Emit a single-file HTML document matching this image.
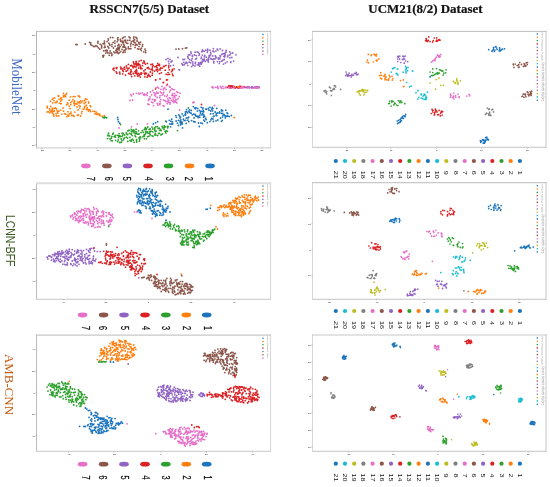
<!DOCTYPE html>
<html><head><meta charset="utf-8"><title>t-SNE</title>
<style>html,body{margin:0;padding:0;background:#fff}svg{display:block}</style>
</head><body>
<svg width="550" height="487" viewBox="0 0 550 487">
<rect width="550" height="487" fill="#fff"/>
<rect x="36.5" y="31.4" width="234.0" height="116.5" fill="#fff"/>
<path d="M36.5 30.95V148.40" stroke="#a4a4a4" stroke-width="0.8"/>
<path d="M270.5 30.95V148.40" stroke="#dadada" stroke-width="1.1"/>
<path d="M36.1 31.4H271.05" stroke="#b8b8b8" stroke-width="0.9"/>
<path d="M36.1 147.9H271.05" stroke="#c8c8c8" stroke-width="1.0"/>
<rect x="36.5" y="183.2" width="234.0" height="116.1" fill="#fff"/>
<path d="M36.5 182.15V299.95" stroke="#a8a8a8" stroke-width="0.8"/>
<path d="M270.5 182.15V299.95" stroke="#dadada" stroke-width="1.2"/>
<path d="M36.1 183.2H271.1" stroke="#dedede" stroke-width="2.1"/>
<path d="M36.1 299.3H271.1" stroke="#d2d2d2" stroke-width="1.3"/>
<rect x="36.5" y="335.2" width="234.0" height="116.2" fill="#fff"/>
<path d="M36.5 334.55V452.05" stroke="#a8a8a8" stroke-width="0.8"/>
<path d="M270.5 334.55V452.05" stroke="#dadada" stroke-width="1.2"/>
<path d="M36.1 335.2H271.1" stroke="#c8c8c8" stroke-width="1.3"/>
<path d="M36.1 451.4H271.1" stroke="#d2d2d2" stroke-width="1.3"/>
<rect x="312.5" y="31.4" width="233.5" height="116.0" fill="#fff"/>
<path d="M312.5 30.90V148.05" stroke="#d4d4d4" stroke-width="0.9"/>
<path d="M546.0 30.90V148.05" stroke="#d8d8d8" stroke-width="1.5"/>
<path d="M312.05 31.4H546.75" stroke="#bcbcbc" stroke-width="1.0"/>
<path d="M312.05 147.4H546.75" stroke="#d0d0d0" stroke-width="1.3"/>
<rect x="312.5" y="182.7" width="233.5" height="116.6" fill="#fff"/>
<path d="M312.5 182.10V299.95" stroke="#d4d4d4" stroke-width="0.9"/>
<path d="M546.0 182.10V299.95" stroke="#d8d8d8" stroke-width="1.5"/>
<path d="M312.05 182.7H546.75" stroke="#c8c8c8" stroke-width="1.2"/>
<path d="M312.05 299.3H546.75" stroke="#d0d0d0" stroke-width="1.3"/>
<rect x="312.5" y="335.0" width="233.5" height="116.3" fill="#fff"/>
<path d="M312.5 334.40V451.95" stroke="#d4d4d4" stroke-width="0.9"/>
<path d="M546.0 334.40V451.95" stroke="#d8d8d8" stroke-width="1.5"/>
<path d="M312.05 335.0H546.75" stroke="#c8c8c8" stroke-width="1.2"/>
<path d="M312.05 451.3H546.75" stroke="#d0d0d0" stroke-width="1.3"/>
<g fill="none" stroke-linecap="round">
<path stroke="#8c564b" stroke-width="1.8" d="M113.4 48.0h.01M116.8 49.0h.01M90.8 42.9h.01M129.0 36.9h.01M125.9 49.4h.01M118.0 37.6h.01M112.0 54.2h.01M115.9 50.4h.01M104.4 41.1h.01M133.1 44.5h.01M142.4 46.2h.01M134.0 42.0h.01M145.7 52.5h.01M134.7 39.8h.01M91.9 45.3h.01M103.8 55.4h.01M98.0 41.4h.01M99.7 49.2h.01M140.2 49.1h.01M122.4 42.8h.01M123.5 42.0h.01M112.8 37.6h.01M120.4 39.3h.01M128.3 48.7h.01M114.6 52.7h.01M107.2 50.5h.01M111.1 52.8h.01M123.8 44.2h.01M130.6 44.1h.01M114.9 40.8h.01M103.6 50.8h.01M141.3 50.5h.01M105.3 50.7h.01M140.0 44.3h.01M93.4 46.4h.01M113.1 42.3h.01M123.9 47.2h.01M129.2 48.8h.01M137.1 41.3h.01M124.1 45.4h.01M127.7 40.4h.01M129.7 40.2h.01M128.3 47.0h.01M109.5 53.1h.01M143.7 51.8h.01M108.7 48.0h.01M125.6 40.1h.01M125.2 52.1h.01M118.3 53.6h.01M138.9 43.7h.01M119.3 52.6h.01M135.8 37.3h.01M105.8 53.1h.01M117.4 51.3h.01M98.4 47.8h.01M125.1 47.1h.01M104.5 43.9h.01M120.5 40.4h.01M120.1 46.6h.01M119.1 44.8h.01M101.7 46.5h.01M114.8 43.2h.01M133.9 36.8h.01M127.8 43.3h.01M117.9 45.7h.01M118.1 39.9h.01M138.5 49.1h.01M137.2 45.0h.01M110.2 50.9h.01M116.1 52.4h.01M119.3 47.1h.01M104.9 46.1h.01M96.0 45.6h.01M122.9 46.9h.01M136.5 44.5h.01M130.1 37.9h.01M125.0 50.1h.01M126.5 43.1h.01M118.6 44.5h.01M123.4 52.2h.01M108.3 38.8h.01M122.9 52.6h.01M94.8 46.5h.01M123.4 37.3h.01M117.7 49.1h.01M125.9 48.5h.01M109.2 55.3h.01M111.9 46.3h.01M130.7 46.1h.01M122.5 38.4h.01M117.6 38.9h.01M121.4 44.8h.01M131.4 41.6h.01M107.1 41.6h.01M122.0 49.5h.01M101.6 45.2h.01M119.2 49.9h.01M97.8 43.0h.01M133.0 40.8h.01M105.1 47.3h.01M112.0 44.3h.01M133.7 38.1h.01M89.6 42.3h.01M107.1 51.8h.01M135.2 42.9h.01M100.1 44.1h.01M109.7 44.7h.01M135.1 47.4h.01M140.6 42.2h.01M119.3 48.2h.01M125.7 41.8h.01M117.3 52.7h.01M145.5 50.6h.01M142.6 44.6h.01M135.2 45.2h.01M108.3 40.0h.01M103.2 57.0h.01M133.9 40.1h.01M122.2 41.1h.01M104.3 47.6h.01M117.8 47.9h.01M107.9 52.9h.01M139.0 46.6h.01M101.6 47.9h.01M115.2 46.1h.01M138.8 42.4h.01M104.4 42.9h.01M113.8 51.8h.01M90.6 44.7h.01M85.2 44.0h.01M103.1 43.6h.01M131.1 43.1h.01M136.9 38.2h.01M137.6 48.9h.01M110.5 37.5h.01M116.9 49.6h.01M108.9 43.2h.01M106.4 50.2h.01M141.5 48.1h.01M124.4 40.4h.01M120.7 51.6h.01M107.8 46.5h.01M120.6 41.4h.01M102.8 55.7h.01M137.0 40.1h.01M97.3 46.4h.01M117.2 41.7h.01M125.1 36.8h.01M145.0 49.1h.01M124.0 50.5h.01M109.9 45.2h.01M111.8 55.6h.01M130.8 48.7h.01"/>
<path stroke="#8c564b" stroke-width="1.8" d="M76.0 44.5h.01M77.2 44.6h.01M176.0 49.1h.01M178.8 49.0h.01M182.5 48.7h.01M185.4 48.1h.01M186.8 47.8h.01"/>
<path stroke="#da2224" stroke-width="1.8" d="M120.6 67.1h.01M116.1 71.8h.01M132.4 66.3h.01M139.7 74.3h.01M149.2 76.0h.01M120.8 68.9h.01M128.4 64.4h.01M169.5 74.3h.01M133.1 67.8h.01M142.8 63.1h.01M165.9 65.4h.01M126.0 71.1h.01M159.4 64.3h.01M141.2 60.4h.01M136.8 71.0h.01M171.6 71.7h.01M140.8 68.7h.01M151.0 64.5h.01M130.9 69.6h.01M141.8 73.3h.01M144.3 62.0h.01M135.8 70.8h.01M144.9 74.4h.01M141.0 72.9h.01M128.0 68.3h.01M150.3 72.0h.01M113.9 68.2h.01M130.1 74.0h.01M149.1 68.8h.01M152.3 69.0h.01M123.3 71.4h.01M136.1 62.8h.01M144.1 73.1h.01M137.8 64.4h.01M161.3 72.8h.01M147.4 63.4h.01M136.4 65.0h.01M134.9 71.6h.01M168.7 67.7h.01M137.2 73.7h.01M124.7 69.2h.01M126.5 67.8h.01M156.8 65.6h.01M137.8 76.0h.01M136.1 61.5h.01M133.8 66.2h.01M133.5 73.3h.01M138.1 63.2h.01M157.7 63.3h.01M130.5 72.3h.01M131.5 65.3h.01M114.1 70.4h.01M126.4 71.2h.01M140.3 66.2h.01M138.7 68.0h.01M134.8 66.9h.01M157.4 69.1h.01M138.0 65.7h.01M116.2 67.9h.01M133.8 63.5h.01M169.4 69.8h.01M124.3 67.2h.01M136.4 69.4h.01M152.5 70.6h.01M168.7 65.9h.01M121.5 68.5h.01M112.9 69.1h.01M143.9 70.9h.01M148.7 74.4h.01M134.8 75.8h.01M157.5 71.6h.01M122.8 70.5h.01M136.4 63.8h.01M133.4 62.0h.01M119.7 72.2h.01M162.1 68.2h.01M129.1 68.1h.01M158.1 65.2h.01M166.1 74.3h.01M158.0 70.1h.01M150.2 76.5h.01M156.4 66.4h.01M147.2 68.0h.01M130.6 65.8h.01M143.9 61.0h.01M152.6 64.2h.01M125.5 75.1h.01M164.4 66.3h.01M154.5 71.1h.01M141.0 74.3h.01M135.6 73.2h.01M146.5 73.6h.01M138.5 73.5h.01M135.6 63.9h.01M160.0 68.9h.01M147.1 77.2h.01M140.3 77.1h.01M153.1 65.7h.01M152.2 75.2h.01M145.3 69.7h.01M155.0 66.7h.01M151.0 69.5h.01M152.4 67.0h.01M139.0 75.6h.01M144.3 62.8h.01M172.4 74.1h.01M168.1 72.6h.01M141.9 68.7h.01M131.0 71.0h.01M128.6 73.5h.01M147.8 75.7h.01M167.9 74.6h.01M137.2 74.4h.01M134.4 64.5h.01M157.0 67.6h.01M172.5 70.4h.01M159.5 65.7h.01M144.8 76.8h.01M127.8 70.1h.01M131.0 74.6h.01M160.0 70.1h.01M138.9 64.2h.01M131.5 71.7h.01M139.2 61.1h.01M139.8 64.7h.01M136.6 72.2h.01M142.5 65.6h.01M156.1 70.0h.01M165.2 70.2h.01M116.9 67.6h.01M126.4 65.9h.01M152.4 73.2h.01M159.5 73.6h.01M173.0 75.7h.01M119.9 73.9h.01M145.5 64.1h.01M148.4 67.3h.01M174.1 68.8h.01M122.7 73.8h.01M123.0 68.8h.01M131.7 76.6h.01M172.4 69.4h.01M136.1 66.8h.01M140.7 67.4h.01M116.7 68.6h.01M160.7 67.9h.01M145.8 73.0h.01M163.5 66.5h.01M133.2 73.8h.01M116.9 73.2h.01"/>
<path stroke="#da2224" stroke-width="1.8" d="M155.9 79.8h.01M163.2 82.7h.01M167.5 79.8h.01M155.6 80.0h.01M163.6 82.3h.01M166.5 80.0h.01M167.3 84.5h.01M155.6 88.8h.01M160.0 79.0h.01M193.5 102.3h.01M201.5 104.5h.01"/>
<path stroke="#9164c4" stroke-width="1.8" d="M217.1 49.1h.01M213.4 48.6h.01M224.8 56.9h.01M206.2 57.2h.01M222.5 50.5h.01M218.4 59.2h.01M192.4 56.5h.01M187.8 65.3h.01M204.9 55.4h.01M208.3 62.1h.01M187.1 63.1h.01M192.4 55.5h.01M213.9 58.8h.01M227.9 55.4h.01M235.9 54.8h.01M195.5 62.5h.01M184.3 64.7h.01M204.6 60.2h.01M231.8 57.4h.01M198.5 64.9h.01M212.7 59.3h.01M226.2 50.5h.01M192.1 58.8h.01M224.3 59.5h.01M220.0 55.6h.01M197.3 64.8h.01M211.0 53.8h.01M188.3 58.2h.01M196.6 58.3h.01M215.1 58.8h.01M225.0 53.9h.01M201.3 64.0h.01M202.0 62.5h.01M212.8 56.0h.01M217.9 50.1h.01M212.9 51.0h.01M183.0 59.5h.01M210.0 50.2h.01M210.3 55.5h.01M220.4 56.7h.01M208.6 59.3h.01M188.4 54.8h.01M213.8 61.5h.01M227.1 61.8h.01M223.5 64.1h.01M227.6 56.7h.01M181.8 63.7h.01M218.8 57.9h.01M190.8 51.9h.01M224.9 55.5h.01M195.6 59.2h.01M191.3 53.4h.01M221.8 61.2h.01M185.4 63.4h.01M202.4 55.1h.01M202.8 50.9h.01M199.8 63.9h.01M213.8 62.9h.01M202.4 50.0h.01M193.1 65.3h.01M189.1 62.2h.01M230.7 62.4h.01M201.8 51.7h.01M198.4 52.5h.01M211.3 59.2h.01M198.6 63.0h.01M189.8 55.0h.01M206.9 60.0h.01M191.7 66.6h.01M223.9 56.4h.01M190.7 62.8h.01M192.9 63.9h.01M207.3 52.3h.01M215.3 55.8h.01M199.0 55.3h.01M204.1 59.1h.01M232.6 53.0h.01M229.7 51.8h.01M197.1 51.9h.01M213.9 51.7h.01M186.2 62.1h.01M216.6 57.7h.01M208.2 60.9h.01M205.8 50.2h.01M195.0 65.9h.01M208.3 58.4h.01M209.2 55.4h.01M219.3 63.4h.01M226.0 51.9h.01M233.6 61.1h.01M229.9 55.0h.01M215.9 51.1h.01M225.3 52.8h.01M219.8 58.7h.01M191.3 60.5h.01M199.7 66.2h.01M199.4 54.0h.01M182.7 65.0h.01M222.8 53.8h.01M194.6 55.0h.01M201.2 58.6h.01M204.2 56.8h.01M205.3 61.4h.01M230.7 53.3h.01M210.6 52.3h.01M189.4 59.6h.01M221.7 54.5h.01M187.8 56.7h.01M203.4 60.8h.01M183.7 62.3h.01M207.7 49.2h.01M207.7 50.7h.01M209.1 56.9h.01M195.3 63.5h.01M201.3 57.1h.01M215.8 57.0h.01M229.9 57.8h.01M217.4 61.6h.01M200.4 62.3h.01M223.8 53.6h.01M184.6 59.4h.01M202.8 59.5h.01M222.8 60.1h.01M210.8 58.5h.01M230.9 61.8h.01M204.3 51.4h.01M200.9 63.2h.01M219.9 61.6h.01M196.3 55.6h.01M202.1 61.4h.01M195.1 52.2h.01M225.4 63.1h.01M220.1 48.9h.01M192.8 61.9h.01"/>
<path stroke="#9164c4" stroke-width="1.8" d="M178.0 57.5h.01M179.5 70.0h.01M168.0 58.5h.01M170.0 59.5h.01M172.0 61.0h.01M169.0 63.8h.01M171.0 62.0h.01M173.4 65.3h.01M170.5 66.0h.01M168.5 61.5h.01M179.0 69.6h.01M166.0 59.5h.01"/>
<path stroke="#e670c8" stroke-width="1.8" d="M174.4 89.8h.01M151.5 102.2h.01M146.1 94.7h.01M176.7 99.7h.01M166.0 89.4h.01M140.6 93.3h.01M157.2 97.5h.01M160.2 103.4h.01M163.5 100.1h.01M147.3 93.0h.01M172.7 95.1h.01M174.8 100.9h.01M164.7 95.9h.01M154.8 95.0h.01M170.0 104.1h.01M170.3 98.4h.01M174.0 102.5h.01M167.4 95.0h.01M176.8 102.9h.01M179.3 96.6h.01M173.9 96.1h.01M136.4 93.3h.01M157.7 105.2h.01M159.8 97.7h.01M175.8 99.7h.01M156.8 92.1h.01M163.4 89.9h.01M157.8 87.2h.01M171.3 100.4h.01M153.4 105.6h.01M171.8 88.8h.01M158.2 93.1h.01M173.2 99.9h.01M161.5 93.0h.01M131.5 95.8h.01M180.0 93.2h.01M159.8 104.8h.01M154.7 101.3h.01M152.9 102.7h.01M168.9 100.6h.01M174.6 93.3h.01M173.0 97.9h.01M156.9 93.4h.01M155.2 93.4h.01M160.9 89.3h.01M174.9 97.8h.01M148.5 100.4h.01M167.8 101.2h.01M138.7 93.2h.01M167.2 103.7h.01M159.4 104.0h.01M163.2 105.7h.01M169.4 86.4h.01M139.2 94.1h.01M142.4 92.8h.01M172.9 89.3h.01M162.0 86.4h.01M154.2 100.0h.01M150.5 92.0h.01M164.7 87.8h.01M166.6 96.7h.01M130.7 94.6h.01M157.3 103.4h.01M156.1 87.6h.01M174.5 96.6h.01M164.0 106.2h.01M162.1 95.1h.01M155.5 96.0h.01M160.9 99.6h.01M143.4 94.8h.01M149.1 104.6h.01M153.9 92.7h.01M160.0 101.4h.01M147.9 104.0h.01M175.1 95.5h.01M177.9 92.6h.01M175.8 102.0h.01M160.1 95.7h.01M178.1 98.6h.01M165.0 100.6h.01M171.8 95.5h.01M169.4 97.6h.01M149.8 99.1h.01M172.8 101.6h.01M148.9 99.0h.01M176.8 91.7h.01M147.2 95.4h.01M166.5 85.5h.01M160.3 92.0h.01M167.9 98.9h.01M163.5 88.5h.01M155.5 99.9h.01M170.1 102.7h.01M151.5 94.9h.01M169.7 91.8h.01M163.4 93.9h.01M152.8 90.5h.01M172.6 93.6h.01M168.4 102.4h.01M176.5 95.4h.01M166.1 101.7h.01M152.4 99.4h.01M158.6 88.3h.01M133.3 94.0h.01M170.1 87.2h.01M144.4 95.0h.01M170.4 90.2h.01M144.3 93.9h.01M150.0 96.9h.01M163.7 92.3h.01"/>
<path stroke="#e670c8" stroke-width="1.8" d="M130.0 100.5h.01M132.5 100.0h.01M179.6 110.0h.01M192.7 102.6h.01M194.0 102.3h.01M214.5 105.5h.01M137.3 123.9h.01M147.5 123.9h.01M131.5 126.8h.01M119.0 128.0h.01"/>
<path stroke="#ff7f0e" stroke-width="1.8" d="M61.3 97.6h.01M85.6 98.8h.01M81.7 102.3h.01M80.6 100.8h.01M86.4 105.2h.01M70.8 102.6h.01M80.1 103.1h.01M50.4 101.2h.01M55.9 102.7h.01M69.2 106.1h.01M79.8 108.1h.01M88.5 101.8h.01M63.4 93.5h.01M53.9 100.6h.01M53.1 98.3h.01M67.6 102.8h.01M87.1 107.5h.01M68.0 103.8h.01M58.8 96.0h.01M89.5 109.7h.01M80.1 106.2h.01M70.8 104.6h.01M58.2 96.0h.01M84.5 107.2h.01M77.2 104.1h.01M82.7 100.8h.01M77.5 102.2h.01M65.6 96.7h.01M66.6 104.7h.01M74.3 105.4h.01M83.2 109.1h.01M74.9 103.6h.01M84.2 103.5h.01M85.0 106.3h.01M86.9 99.4h.01M61.9 99.5h.01M57.0 101.9h.01M60.8 101.0h.01M63.7 96.9h.01M78.6 102.7h.01M90.7 106.6h.01M70.5 96.9h.01M61.3 103.6h.01M86.3 109.5h.01M52.6 102.8h.01M79.5 101.8h.01M79.0 105.4h.01M73.0 99.6h.01M64.9 95.5h.01M69.2 100.2h.01M78.2 95.9h.01M79.8 97.1h.01M87.4 109.1h.01M63.4 95.9h.01M59.0 99.3h.01M72.0 101.3h.01M57.1 101.2h.01M66.7 93.3h.01M84.1 108.8h.01M74.6 101.0h.01M74.0 103.5h.01M54.7 97.9h.01M77.0 107.0h.01M90.1 105.6h.01M60.5 103.6h.01M55.1 102.6h.01M52.3 99.3h.01M84.7 100.5h.01M65.9 94.7h.01M85.5 102.4h.01M76.2 103.8h.01M88.6 103.0h.01M59.5 103.2h.01M73.2 96.6h.01M74.9 96.7h.01M60.7 98.5h.01M79.4 96.2h.01M74.2 101.9h.01"/>
<path stroke="#ff7f0e" stroke-width="1.8" d="M51.7 110.2h.01M57.5 112.0h.01M53.5 114.4h.01M71.0 112.1h.01M64.5 113.6h.01M68.8 116.0h.01M60.8 110.1h.01M53.9 116.0h.01M47.1 111.9h.01M74.9 112.1h.01M49.9 112.8h.01M52.8 111.5h.01M66.8 116.7h.01M52.3 109.9h.01M50.6 111.7h.01M58.8 115.9h.01M67.9 115.2h.01M52.4 108.5h.01M77.2 115.1h.01M56.0 113.6h.01M56.3 115.5h.01M68.0 111.8h.01M47.2 106.4h.01M47.2 107.9h.01M59.0 111.1h.01M81.6 113.3h.01M54.3 111.0h.01M55.4 108.0h.01M69.3 113.9h.01M50.7 106.5h.01M54.1 108.5h.01M52.5 113.1h.01M63.5 111.2h.01M51.6 111.6h.01M57.0 116.1h.01M71.8 115.5h.01M61.9 114.1h.01M56.5 109.0h.01M65.8 114.2h.01M80.6 116.0h.01M73.2 115.5h.01M70.9 113.5h.01M74.2 116.3h.01M57.3 111.0h.01M49.5 109.0h.01M78.3 115.0h.01M49.7 110.0h.01M57.8 113.1h.01M48.4 111.9h.01"/>
<path stroke="#ff7f0e" stroke-width="1.8" d="M99.4 115.2h.01M96.2 112.2h.01M90.0 110.2h.01M97.1 114.6h.01M99.0 114.1h.01M94.6 111.4h.01M90.6 111.6h.01M104.1 115.7h.01M97.8 113.7h.01M88.0 109.7h.01M96.1 113.8h.01M92.9 111.3h.01M95.0 113.9h.01M102.2 116.4h.01M100.0 115.7h.01M99.9 114.3h.01M88.5 111.0h.01"/>
<path stroke="#ff7f0e" stroke-width="1.8" d="M70.0 108.5h.01M78.0 110.0h.01M82.0 111.5h.01M63.0 108.0h.01M234.2 117.5h.01"/>
<path stroke="#2ca02c" stroke-width="1.8" d="M150.2 129.0h.01M167.4 126.4h.01M154.7 130.3h.01M153.0 136.3h.01M134.1 132.8h.01M121.9 140.8h.01M140.8 137.8h.01M148.0 133.2h.01M127.6 138.1h.01M107.5 138.6h.01M155.8 126.8h.01M123.5 139.8h.01M144.1 135.0h.01M138.4 130.8h.01M135.5 131.6h.01M122.1 136.4h.01M117.3 135.3h.01M139.4 141.2h.01M145.3 127.7h.01M147.3 131.9h.01M111.1 140.6h.01M155.2 133.3h.01M135.7 136.7h.01M126.3 137.2h.01M110.0 138.9h.01M155.3 133.9h.01M132.5 130.4h.01M154.5 127.8h.01M118.1 135.6h.01M149.5 131.6h.01M108.5 133.2h.01M144.9 128.8h.01M112.8 134.2h.01M142.4 130.7h.01M159.6 133.4h.01M164.1 129.3h.01M134.1 142.3h.01M140.1 136.7h.01M144.2 129.6h.01M160.3 129.4h.01M144.4 136.2h.01M108.0 135.8h.01M167.6 127.9h.01M127.9 130.9h.01M136.1 129.2h.01M136.6 139.7h.01M155.3 131.3h.01M111.3 138.2h.01M157.7 135.6h.01M142.9 136.8h.01M166.2 130.9h.01M124.4 137.8h.01M129.9 137.3h.01M109.6 135.9h.01M137.8 134.2h.01M132.4 139.2h.01M119.1 133.6h.01M165.2 126.9h.01M144.4 138.7h.01M168.2 126.7h.01M139.7 139.6h.01M126.6 133.9h.01M156.0 135.1h.01M152.0 127.1h.01M131.3 131.3h.01M111.9 136.5h.01M144.0 135.8h.01M113.2 133.2h.01M118.6 137.6h.01M162.6 127.9h.01M122.1 133.1h.01M165.1 131.4h.01M152.7 131.9h.01M131.2 140.1h.01M135.0 135.8h.01M133.8 130.0h.01M126.3 132.9h.01M112.3 140.8h.01M115.6 140.3h.01M146.2 129.4h.01M136.5 140.4h.01M119.8 142.5h.01M117.7 141.7h.01M154.6 134.8h.01M130.0 140.4h.01M121.2 139.0h.01M132.2 135.6h.01M167.4 131.2h.01M141.1 132.6h.01M157.5 126.6h.01M123.2 133.3h.01M131.2 134.2h.01M108.9 135.3h.01M145.8 132.9h.01M149.1 136.1h.01M131.2 141.2h.01M156.2 131.1h.01M123.7 138.8h.01M151.1 131.1h.01M124.6 135.0h.01M161.2 130.5h.01M145.7 131.5h.01M118.9 136.1h.01M127.8 141.4h.01M152.1 135.8h.01M129.0 130.2h.01M149.7 133.6h.01M152.8 129.0h.01M114.2 136.6h.01M159.6 130.3h.01M149.8 132.5h.01M133.3 140.3h.01M165.9 132.9h.01M164.0 127.6h.01M139.0 138.0h.01M159.3 128.2h.01M158.1 128.4h.01M147.6 136.7h.01M118.2 139.9h.01M150.4 134.8h.01M131.2 129.3h.01M164.2 126.0h.01M131.5 133.3h.01M121.4 142.3h.01M136.7 142.0h.01M115.3 135.5h.01M154.9 129.1h.01M129.6 133.3h.01M115.4 137.2h.01M136.3 132.2h.01M119.9 135.6h.01M145.0 134.5h.01M161.0 134.9h.01M134.2 130.9h.01M133.0 131.5h.01M143.3 132.4h.01M162.4 134.0h.01M147.8 127.0h.01M146.6 128.5h.01M122.6 135.0h.01M146.4 138.8h.01M162.3 126.4h.01M139.0 134.0h.01M158.5 133.5h.01M149.1 129.4h.01M136.5 133.5h.01M120.3 136.6h.01M107.9 135.2h.01M127.7 134.7h.01M135.3 133.8h.01"/>
<path stroke="#2ca02c" stroke-width="1.8" d="M103.0 117.4h.01M104.2 117.9h.01M105.5 117.3h.01M106.7 117.8h.01M104.8 116.8h.01M120.5 124.6h.01M188.4 108.0h.01M165.8 121.2h.01M177.5 130.6h.01"/>
<path stroke="#1c74bc" stroke-width="1.8" d="M205.6 118.4h.01M182.5 127.9h.01M195.5 115.2h.01M188.0 117.9h.01M195.9 107.7h.01M175.8 115.6h.01M229.2 116.6h.01M193.7 121.5h.01M195.0 122.0h.01M225.8 110.2h.01M200.4 112.0h.01M203.9 114.8h.01M186.5 109.6h.01M196.0 116.2h.01M185.4 111.8h.01M206.1 119.5h.01M219.6 111.9h.01M212.9 119.0h.01M189.8 112.5h.01M210.0 107.3h.01M203.6 117.2h.01M216.8 115.7h.01M201.9 114.9h.01M226.7 116.3h.01M225.3 117.9h.01M202.7 113.5h.01M197.4 111.1h.01M170.9 121.2h.01M188.8 111.1h.01M215.1 112.0h.01M212.6 110.8h.01M200.9 111.2h.01M222.6 110.7h.01M225.0 115.9h.01M195.2 114.5h.01M202.4 123.5h.01M210.8 111.0h.01M182.1 122.5h.01M202.8 108.9h.01M185.6 120.3h.01M194.7 108.1h.01M219.5 113.1h.01M180.0 118.0h.01M227.0 112.9h.01M212.3 107.5h.01M199.3 110.3h.01M207.3 122.7h.01M203.7 111.8h.01M193.3 106.6h.01M191.4 110.4h.01M217.7 112.9h.01M185.0 114.8h.01M220.5 118.0h.01M210.6 113.9h.01M214.1 116.1h.01M213.3 116.6h.01M176.4 117.3h.01M191.1 113.2h.01M213.4 121.4h.01M178.3 125.4h.01M209.0 110.2h.01M203.9 116.0h.01M224.2 114.7h.01M216.4 113.4h.01M180.2 121.0h.01M186.8 111.7h.01M182.1 113.9h.01M203.0 108.0h.01M216.0 115.1h.01M180.8 119.8h.01M200.9 122.9h.01M188.7 117.1h.01M180.1 121.9h.01M192.3 114.8h.01M183.4 115.8h.01M180.4 122.7h.01M213.2 113.7h.01M221.4 121.3h.01M183.4 119.2h.01M222.7 113.4h.01M180.5 117.0h.01M187.8 120.1h.01M210.0 121.6h.01M223.0 115.3h.01M221.7 110.9h.01M204.6 121.2h.01M211.7 109.0h.01M178.7 114.9h.01M231.3 115.5h.01M208.4 108.4h.01M216.0 120.8h.01M186.3 118.0h.01M178.4 120.3h.01M191.6 120.6h.01M205.8 109.1h.01M177.4 123.2h.01M222.2 120.3h.01M189.5 109.9h.01M181.8 121.8h.01M204.6 116.4h.01M197.7 108.4h.01M198.5 123.0h.01M186.2 123.4h.01M195.5 108.8h.01M179.7 116.1h.01M211.6 118.3h.01M202.1 111.3h.01M201.2 107.3h.01M182.3 123.9h.01M187.8 112.8h.01M188.8 121.7h.01M171.1 124.1h.01M222.5 116.9h.01M176.1 121.0h.01M203.8 120.1h.01M217.8 120.0h.01M171.7 119.2h.01M213.0 108.6h.01M184.1 120.5h.01M172.5 121.9h.01M185.6 115.0h.01M181.1 123.9h.01M200.5 113.5h.01M216.7 108.4h.01M194.1 117.9h.01M193.8 114.2h.01M171.8 123.7h.01M221.5 113.4h.01M198.1 117.7h.01M198.2 116.3h.01M203.5 111.0h.01M197.3 116.2h.01M169.7 123.9h.01M199.7 115.4h.01M206.5 109.2h.01M227.7 116.0h.01M185.5 113.2h.01M199.8 117.3h.01M225.7 116.0h.01M172.6 124.0h.01M180.5 124.9h.01M227.7 113.5h.01M210.9 119.8h.01M221.4 109.8h.01"/>
<path stroke="#1c74bc" stroke-width="1.8" d="M117.6 117.4h.01M117.9 119.5h.01M118.4 121.7h.01M119.8 123.2h.01M153.3 123.9h.01M157.6 121.7h.01M155.5 122.8h.01M166.4 121.7h.01M169.3 120.3h.01M170.7 126.8h.01M168.0 109.2h.01M199.3 126.5h.01"/>
<path stroke="#e670c8" stroke-width="1.8" d="M223.7 88.3h.01M217.0 87.3h.01M229.4 87.0h.01M229.3 87.6h.01M222.8 86.3h.01M229.9 87.5h.01M213.0 88.0h.01M228.0 87.1h.01M217.8 86.5h.01M215.3 87.3h.01M211.9 87.1h.01M221.3 87.9h.01M226.1 87.2h.01M220.7 86.9h.01M218.2 88.4h.01M226.0 87.8h.01M221.7 88.2h.01M212.8 87.0h.01M228.4 87.0h.01M220.4 86.4h.01"/>
<path stroke="#da2224" stroke-width="1.8" d="M236.9 87.4h.01M237.4 87.6h.01M227.6 87.3h.01M230.5 86.9h.01M237.8 87.6h.01M239.4 88.0h.01M233.9 86.8h.01M231.6 87.3h.01M243.9 86.7h.01M230.9 87.8h.01M238.3 88.0h.01M229.2 87.2h.01M232.1 86.4h.01M244.2 87.2h.01M231.9 87.6h.01M231.5 87.6h.01M234.1 87.3h.01M232.5 87.0h.01M230.7 87.5h.01M233.5 86.4h.01M241.1 87.2h.01M235.2 88.1h.01M237.3 87.3h.01M228.8 87.1h.01M239.6 86.5h.01M234.3 87.0h.01M239.3 87.2h.01M236.4 87.0h.01M230.4 86.5h.01M229.8 87.6h.01M239.3 86.6h.01M229.7 87.2h.01M240.5 86.5h.01M245.1 87.3h.01M233.8 87.3h.01M237.1 87.0h.01"/>
<path stroke="#e670c8" stroke-width="1.8" d="M229.7 87.8h.01M242.4 87.8h.01M242.0 87.9h.01M243.7 87.2h.01M242.1 87.2h.01M247.2 87.3h.01M246.8 87.2h.01M247.9 87.1h.01M225.4 87.4h.01M229.5 87.6h.01M233.9 87.6h.01M240.1 87.6h.01M243.8 87.8h.01M249.2 87.6h.01M242.0 86.4h.01M231.4 88.1h.01M241.8 87.2h.01M246.8 87.2h.01M234.1 88.0h.01M240.8 88.2h.01M239.8 88.1h.01M228.7 87.8h.01M238.0 87.4h.01M233.6 86.8h.01"/>
<path stroke="#9164c4" stroke-width="1.8" d="M256.2 87.4h.01M257.3 86.9h.01M255.0 87.0h.01M251.3 87.3h.01M249.4 87.3h.01M252.8 87.5h.01M252.0 86.7h.01M249.1 86.9h.01M247.2 87.0h.01M258.2 87.7h.01M259.2 87.5h.01M258.7 87.0h.01M256.6 86.9h.01M246.4 87.6h.01M256.8 86.9h.01M248.5 87.0h.01M252.0 88.0h.01M256.8 87.4h.01"/>
<path stroke="#e670c8" stroke-width="1.8" d="M254.3 86.9h.01M257.4 87.8h.01M249.2 86.6h.01M258.9 87.5h.01M256.3 88.1h.01M257.6 87.2h.01M256.7 88.1h.01M255.1 88.2h.01M259.1 86.8h.01M256.0 88.1h.01M249.6 88.0h.01M247.7 87.9h.01M257.6 87.3h.01M253.3 88.1h.01"/>
<path stroke="#da2224" stroke-width="1.8" d="M229.0 85.6h.01M230.5 85.9h.01M232.0 86.0h.01M238.0 87.0h.01M239.5 86.6h.01"/>
<path stroke="#ff7f0e" stroke-width="1.8" d="M238.0 86.6h.01M239.0 87.0h.01"/>
<path stroke="#e670c8" stroke-width="1.8" d="M77.0 219.9h.01M101.6 219.8h.01M93.2 220.7h.01M97.8 210.5h.01M90.5 220.6h.01M101.7 212.3h.01M108.2 222.2h.01M94.7 218.4h.01M96.6 208.7h.01M90.9 223.4h.01M103.4 213.3h.01M90.5 219.8h.01M103.3 220.7h.01M91.3 217.2h.01M83.6 220.0h.01M97.3 221.6h.01M113.2 217.8h.01M73.6 217.6h.01M94.3 222.0h.01M86.4 211.1h.01M97.3 218.2h.01M102.2 215.6h.01M72.4 214.9h.01M75.1 216.3h.01M109.0 225.1h.01M70.7 217.1h.01M112.4 214.5h.01M77.8 212.9h.01M83.1 213.7h.01M87.0 208.9h.01M85.1 208.5h.01M90.0 219.7h.01M90.1 213.2h.01M93.1 212.7h.01M103.5 216.6h.01M79.7 211.5h.01M101.2 216.8h.01M111.1 220.4h.01M92.4 223.6h.01M83.0 218.3h.01M76.9 218.3h.01M99.2 222.3h.01M112.2 216.7h.01M98.7 226.5h.01M89.4 218.8h.01M83.7 216.4h.01M103.9 223.3h.01M103.7 211.7h.01M109.3 213.0h.01M102.6 211.1h.01M83.5 210.1h.01M89.2 217.6h.01M87.9 222.2h.01M78.8 218.0h.01M79.0 220.8h.01M86.2 217.2h.01M111.1 215.2h.01M94.4 209.2h.01M76.5 214.8h.01M80.1 216.1h.01M110.6 214.8h.01M91.7 226.5h.01M95.0 227.5h.01M93.4 219.4h.01M91.5 218.9h.01M111.8 220.8h.01M89.6 211.8h.01M78.9 216.6h.01M106.5 216.3h.01M85.6 215.0h.01M110.2 217.8h.01M106.9 220.9h.01M81.8 216.2h.01M92.8 216.9h.01M108.3 212.8h.01M80.8 217.9h.01M90.7 214.9h.01M106.4 215.7h.01M75.8 218.8h.01M81.6 220.1h.01M80.4 220.9h.01M88.4 208.6h.01M93.2 214.2h.01M88.3 224.7h.01M111.8 220.0h.01M93.0 211.3h.01M76.7 211.3h.01M109.2 213.9h.01M77.1 215.1h.01M75.5 220.6h.01M80.6 212.5h.01M106.1 212.6h.01M85.8 221.6h.01M74.4 212.8h.01M98.3 218.0h.01M74.4 214.1h.01M89.3 216.2h.01M98.2 211.5h.01M93.8 223.9h.01M101.3 223.7h.01M94.4 216.7h.01M92.0 211.5h.01M88.6 223.4h.01M78.7 222.5h.01M75.4 213.6h.01M81.5 209.4h.01M96.3 215.0h.01M109.1 214.3h.01M81.2 210.8h.01M78.5 211.1h.01M83.4 214.9h.01M83.4 222.4h.01M100.3 227.1h.01M103.5 214.5h.01M91.8 225.8h.01M90.3 221.7h.01M97.8 223.7h.01M93.6 207.5h.01M79.5 220.2h.01M104.1 225.2h.01M92.7 218.1h.01M96.4 211.8h.01M103.4 222.0h.01M84.4 223.0h.01M90.0 211.0h.01M87.2 214.5h.01M89.3 209.5h.01M102.9 223.2h.01M100.4 216.2h.01M70.5 215.8h.01M109.3 221.5h.01M109.3 220.2h.01M98.9 216.4h.01M109.8 219.8h.01M101.3 221.6h.01M96.3 220.1h.01M82.9 209.6h.01M75.4 216.8h.01M90.3 218.7h.01M110.3 224.2h.01M77.7 220.7h.01M84.7 210.8h.01M93.6 224.5h.01M93.9 218.3h.01M84.9 213.0h.01M72.9 219.1h.01M82.9 219.4h.01M97.3 227.1h.01M96.8 213.2h.01M93.4 225.8h.01M86.1 222.9h.01M72.3 215.9h.01M99.3 220.2h.01M110.5 221.7h.01M79.8 221.1h.01M99.7 218.9h.01"/>
<path stroke="#e670c8" stroke-width="1.8" d="M134.5 211.8h.01M137.0 212.0h.01M152.0 218.4h.01"/>
<path stroke="#1c74bc" stroke-width="1.8" d="M151.2 193.0h.01M152.2 204.7h.01M142.3 201.1h.01M143.6 195.8h.01M140.4 189.0h.01M141.5 196.2h.01M159.7 212.3h.01M159.8 215.2h.01M156.0 215.4h.01M151.6 191.5h.01M158.2 202.4h.01M160.4 204.7h.01M150.6 191.5h.01M139.9 203.4h.01M146.6 198.7h.01M153.1 195.7h.01M164.7 211.5h.01M140.5 200.5h.01M156.8 214.0h.01M154.7 211.1h.01M142.0 205.5h.01M143.0 198.9h.01M141.3 203.7h.01M165.5 209.9h.01M141.9 192.4h.01M151.6 203.0h.01M144.0 198.8h.01M148.1 201.0h.01M139.9 194.3h.01M163.1 212.7h.01M150.1 198.3h.01M155.3 193.9h.01M165.9 211.9h.01M157.2 211.0h.01M139.4 200.7h.01M149.5 203.3h.01M137.6 202.2h.01M166.5 210.1h.01M147.7 202.4h.01M147.2 191.8h.01M143.2 205.1h.01M160.4 200.5h.01M145.7 195.2h.01M150.0 206.9h.01M152.5 214.0h.01M148.7 195.6h.01M145.9 191.7h.01M143.5 202.9h.01M145.2 206.1h.01M154.8 213.8h.01M152.0 211.2h.01M148.2 190.9h.01M158.4 210.6h.01M137.8 192.0h.01M157.2 215.4h.01M150.2 200.1h.01M152.8 210.6h.01M144.4 191.0h.01M147.9 198.6h.01M149.8 201.6h.01M156.1 202.9h.01M142.4 193.9h.01M149.3 194.3h.01M142.8 191.7h.01M146.0 189.5h.01M153.2 212.0h.01M156.6 200.0h.01M140.5 190.5h.01M143.0 190.6h.01M152.6 194.7h.01M153.5 213.4h.01M139.9 197.0h.01M149.1 197.0h.01M154.7 196.5h.01M160.2 204.2h.01M154.2 209.1h.01M139.9 202.5h.01M138.7 196.1h.01M152.9 207.2h.01M138.0 189.9h.01M155.7 205.0h.01M150.7 201.5h.01M144.5 202.7h.01M161.6 201.4h.01M146.6 203.5h.01M163.3 210.8h.01M141.1 194.9h.01M146.1 208.4h.01M154.9 206.0h.01M166.3 208.1h.01M138.8 188.3h.01M157.8 205.3h.01M157.6 195.5h.01M158.0 201.1h.01M162.2 205.8h.01M149.6 188.8h.01M159.2 205.4h.01M142.3 202.4h.01M150.5 208.3h.01M148.4 204.7h.01M136.7 195.5h.01M155.9 195.8h.01M167.7 208.3h.01M160.7 213.4h.01M152.3 192.9h.01M168.0 206.5h.01M138.4 199.3h.01M146.4 188.3h.01M137.3 203.7h.01M145.6 193.8h.01M151.1 210.4h.01M143.6 189.3h.01M155.1 203.3h.01M153.7 205.9h.01M137.1 197.1h.01M155.3 216.5h.01M162.8 207.0h.01M163.4 214.5h.01M138.9 193.6h.01M149.3 208.6h.01M155.5 212.2h.01M142.0 197.9h.01M152.3 191.0h.01M146.2 207.1h.01M163.6 209.0h.01M156.4 192.1h.01M147.1 194.2h.01M149.9 195.6h.01M145.6 203.2h.01M147.3 201.3h.01M144.1 202.0h.01M161.9 215.3h.01M160.2 206.3h.01M138.1 201.5h.01M164.3 209.9h.01M151.7 199.7h.01M159.8 201.5h.01M155.2 192.7h.01M138.5 192.7h.01M155.3 199.1h.01M165.6 204.3h.01M155.9 214.6h.01M144.1 194.5h.01M148.0 204.1h.01M138.6 198.4h.01M152.1 189.6h.01M156.4 197.2h.01M152.7 205.8h.01M162.3 209.2h.01M153.2 202.5h.01"/>
<path stroke="#1c74bc" stroke-width="1.8" d="M138.0 211.0h.01M139.5 212.5h.01M140.5 211.0h.01M139.0 210.0h.01M141.0 213.0h.01M170.0 212.0h.01M206.0 209.3h.01M207.3 209.2h.01M210.3 208.2h.01M166.0 220.2h.01"/>
<path stroke="#ff7f0e" stroke-width="1.8" d="M245.8 205.8h.01M220.3 205.9h.01M242.3 200.3h.01M230.7 203.8h.01M238.9 196.6h.01M223.1 206.4h.01M236.7 199.2h.01M248.6 200.2h.01M230.1 209.0h.01M228.1 207.0h.01M235.5 215.6h.01M248.8 195.1h.01M242.4 211.9h.01M242.0 195.9h.01M243.4 215.2h.01M234.0 214.4h.01M249.6 202.8h.01M235.7 198.2h.01M235.7 211.1h.01M236.3 201.7h.01M244.4 194.8h.01M231.5 207.9h.01M221.3 206.7h.01M229.3 203.0h.01M236.9 208.0h.01M234.4 206.1h.01M255.1 198.9h.01M238.3 215.4h.01M232.5 210.4h.01M258.2 197.1h.01M250.5 207.1h.01M243.6 213.0h.01M237.6 198.2h.01M231.6 209.6h.01M232.7 206.5h.01M237.3 203.4h.01M241.9 205.7h.01M243.1 197.2h.01M247.1 200.4h.01M247.4 206.5h.01M239.6 203.2h.01M241.9 208.8h.01M234.5 214.0h.01M217.8 210.5h.01M229.0 205.3h.01M252.3 204.2h.01M234.4 207.4h.01M238.7 210.6h.01M240.4 202.8h.01M246.5 208.8h.01M255.8 197.7h.01M236.6 206.3h.01M238.6 213.8h.01M250.2 204.9h.01M242.2 212.8h.01M244.3 211.2h.01M243.2 209.9h.01M238.3 207.7h.01M237.1 212.1h.01M255.2 196.2h.01M241.6 214.1h.01M231.9 212.0h.01M245.2 201.7h.01M250.3 201.6h.01M239.5 209.5h.01M245.1 199.4h.01M234.8 200.6h.01M230.2 207.5h.01M245.0 212.9h.01M240.4 208.9h.01M249.3 208.0h.01M239.7 212.5h.01M236.3 207.6h.01M239.2 199.8h.01M221.0 205.7h.01M233.7 210.6h.01M226.1 205.5h.01M255.0 197.4h.01M241.9 207.1h.01M235.1 201.9h.01M248.1 202.7h.01M245.1 208.0h.01M244.1 213.6h.01M254.5 200.4h.01M243.6 206.1h.01M258.6 200.0h.01M246.6 198.4h.01M253.4 200.8h.01M231.8 205.4h.01M251.3 204.5h.01M240.1 215.4h.01M233.3 201.9h.01M240.3 210.5h.01M243.1 201.6h.01M253.4 201.8h.01M245.4 214.1h.01M244.2 207.9h.01M249.0 213.5h.01M250.4 210.6h.01M244.6 197.4h.01M226.6 206.9h.01M247.7 196.5h.01M241.5 216.5h.01M231.4 206.8h.01M238.6 212.7h.01M250.7 197.4h.01M247.9 199.4h.01M245.4 203.9h.01M252.4 198.6h.01M230.9 202.4h.01M235.6 213.4h.01M232.3 208.2h.01M219.4 207.3h.01M257.0 198.5h.01M219.6 209.6h.01M235.3 211.6h.01M245.5 202.7h.01M225.7 206.7h.01M221.6 207.4h.01M240.2 197.6h.01M251.0 199.8h.01M233.3 212.6h.01M229.0 206.4h.01M224.1 204.9h.01M224.7 207.6h.01M252.9 199.4h.01M234.4 203.2h.01M251.9 199.9h.01M233.0 200.4h.01M235.6 200.4h.01M241.4 211.6h.01M246.3 194.8h.01M237.4 208.7h.01M228.9 203.7h.01M250.0 200.7h.01M256.8 200.7h.01M241.4 216.1h.01M236.7 203.8h.01M235.9 215.1h.01M244.0 202.6h.01M233.3 207.9h.01M239.3 201.8h.01M231.7 211.1h.01M218.0 207.7h.01M249.7 211.9h.01M253.0 201.7h.01M250.1 195.2h.01M236.8 204.7h.01"/>
<path stroke="#ff7f0e" stroke-width="1.8" d="M223.4 213.0h.01M225.0 214.5h.01M226.5 216.0h.01M224.0 216.5h.01M227.5 213.5h.01M228.0 215.8h.01M223.0 215.0h.01M210.7 205.3h.01M216.0 226.7h.01M217.5 229.0h.01M181.3 274.1h.01"/>
<path stroke="#2ca02c" stroke-width="1.8" d="M184.1 241.1h.01M206.4 232.1h.01M173.5 226.0h.01M199.7 238.3h.01M192.8 247.3h.01M209.5 234.2h.01M188.1 238.3h.01M193.9 243.6h.01M191.4 233.8h.01M210.6 232.5h.01M198.4 235.7h.01M199.7 243.7h.01M182.3 240.2h.01M193.7 232.0h.01M176.7 226.4h.01M165.5 222.5h.01M180.4 236.5h.01M170.2 225.6h.01M174.5 224.5h.01M194.6 234.3h.01M192.2 239.1h.01M200.2 239.1h.01M194.2 246.0h.01M178.3 231.0h.01M186.3 240.1h.01M182.5 243.4h.01M184.3 229.9h.01M185.9 240.9h.01M181.2 230.9h.01M211.6 233.1h.01M170.6 226.6h.01M181.9 230.2h.01M189.6 233.5h.01M213.1 232.4h.01M183.9 245.0h.01M190.5 231.8h.01M178.7 228.9h.01M198.8 236.7h.01M181.7 242.0h.01M167.0 225.2h.01M170.3 228.8h.01M183.5 234.9h.01M163.1 225.0h.01M164.5 225.1h.01M175.8 230.8h.01M187.9 237.2h.01M170.0 223.7h.01M212.5 231.7h.01M193.5 230.9h.01M175.5 229.4h.01M195.2 235.2h.01M168.4 226.8h.01M207.9 232.2h.01M174.1 227.6h.01M188.4 234.2h.01M184.8 231.8h.01M176.2 230.3h.01M191.7 237.9h.01M214.8 229.1h.01M183.0 238.4h.01M182.4 237.6h.01M206.8 238.7h.01M190.2 237.7h.01M192.2 235.3h.01M186.2 234.0h.01M193.9 235.1h.01M197.4 231.7h.01M166.8 222.3h.01M188.1 242.0h.01M179.3 231.6h.01M195.9 241.4h.01M181.3 244.5h.01M197.2 241.2h.01M197.8 234.5h.01M205.6 235.3h.01M198.2 241.2h.01M197.4 242.9h.01M186.5 244.5h.01M208.1 235.8h.01M188.1 245.0h.01M197.8 244.1h.01M205.7 237.2h.01M189.3 234.0h.01M192.8 230.1h.01M187.7 239.4h.01M194.4 238.2h.01M213.6 230.2h.01M186.9 242.5h.01M209.5 232.3h.01M208.0 234.3h.01M203.6 236.8h.01M187.4 231.7h.01M187.1 236.8h.01M180.3 233.1h.01M198.5 243.4h.01M191.8 231.8h.01M179.1 227.1h.01M199.7 237.0h.01M170.7 224.4h.01M184.6 237.3h.01M195.0 243.7h.01M168.2 224.6h.01M198.9 234.7h.01M182.2 231.1h.01M182.2 244.9h.01M172.5 229.0h.01M206.8 234.4h.01M168.9 225.5h.01M190.5 236.1h.01M204.1 240.2h.01M194.0 239.1h.01M205.1 236.2h.01M200.1 233.0h.01M201.7 238.8h.01M167.6 223.6h.01M188.4 238.5h.01M191.7 232.8h.01M188.5 244.1h.01M212.5 229.9h.01M203.1 234.1h.01M186.4 239.1h.01M196.3 235.6h.01M212.2 231.0h.01M198.8 242.4h.01M197.7 240.1h.01M182.9 241.3h.01M199.6 232.2h.01M180.6 243.2h.01M193.0 238.6h.01M210.8 233.7h.01M195.6 242.7h.01M202.3 236.4h.01M181.9 234.5h.01M191.1 240.7h.01M193.5 242.0h.01M208.9 231.2h.01M196.7 244.7h.01M194.7 230.2h.01M194.6 236.9h.01M186.4 235.5h.01M187.6 229.9h.01M210.2 235.1h.01M192.5 240.7h.01M183.9 242.3h.01M195.9 236.8h.01M207.6 230.8h.01M165.0 223.5h.01M169.7 221.9h.01M178.4 225.9h.01M203.5 241.1h.01M204.5 233.5h.01M179.8 230.9h.01M165.6 226.5h.01M200.1 234.0h.01M209.0 236.5h.01M194.2 247.7h.01"/>
<path stroke="#2ca02c" stroke-width="1.8" d="M108.7 226.4h.01"/>
<path stroke="#9164c4" stroke-width="1.8" d="M60.6 262.0h.01M81.5 257.0h.01M54.4 254.6h.01M69.3 251.2h.01M50.0 256.0h.01M61.8 260.7h.01M51.8 256.8h.01M53.7 261.4h.01M91.1 261.6h.01M94.2 260.7h.01M80.1 260.2h.01M94.5 251.0h.01M69.3 249.2h.01M52.6 254.7h.01M67.3 264.9h.01M72.2 261.0h.01M93.3 248.5h.01M88.2 255.9h.01M71.3 255.4h.01M55.0 253.2h.01M67.2 259.4h.01M76.6 252.3h.01M90.1 252.6h.01M76.7 253.2h.01M92.3 262.7h.01M78.4 252.3h.01M67.0 258.4h.01M90.3 249.9h.01M65.1 254.7h.01M58.8 255.3h.01M62.8 256.8h.01M74.7 251.1h.01M77.9 256.4h.01M80.6 258.6h.01M80.1 256.8h.01M74.7 258.1h.01M57.8 258.6h.01M70.8 263.7h.01M64.9 260.6h.01M80.9 250.4h.01M83.5 263.0h.01M74.2 259.9h.01M62.8 253.4h.01M76.1 259.7h.01M89.8 258.6h.01M54.4 255.8h.01M77.5 249.8h.01M66.5 253.1h.01M57.6 254.4h.01M74.5 254.1h.01M85.2 260.2h.01M60.7 256.3h.01M68.6 257.3h.01M68.1 254.2h.01M53.5 259.2h.01M92.4 263.8h.01M59.0 253.9h.01M81.9 252.0h.01M86.5 249.3h.01M82.1 253.9h.01M82.3 259.4h.01M75.1 260.6h.01M91.1 248.3h.01M70.9 257.3h.01M65.1 258.5h.01M89.7 249.0h.01M72.2 249.6h.01M55.7 258.7h.01M64.2 257.0h.01M77.0 265.9h.01M93.5 260.1h.01M54.3 260.4h.01M65.5 251.7h.01M92.5 260.2h.01M67.5 252.9h.01M89.1 261.5h.01M89.2 263.7h.01M78.8 250.6h.01M75.3 264.8h.01M87.3 257.6h.01M64.4 261.6h.01M60.4 253.4h.01M90.6 263.2h.01M93.2 258.2h.01M77.9 261.3h.01M59.3 261.3h.01M85.8 258.3h.01M78.0 258.9h.01M88.6 259.4h.01M66.6 250.2h.01M82.5 261.3h.01M86.5 253.7h.01M71.1 264.4h.01M87.4 259.1h.01M57.9 251.9h.01M85.4 262.4h.01M77.6 262.6h.01M47.9 259.0h.01M79.1 255.5h.01M93.5 256.2h.01M73.8 263.8h.01M70.6 256.2h.01M72.0 254.1h.01M66.4 264.8h.01M67.3 263.0h.01M62.9 264.2h.01M56.7 258.2h.01M68.2 260.2h.01M72.8 265.6h.01M81.7 260.5h.01M71.1 252.6h.01M61.8 252.5h.01M57.7 252.8h.01M47.2 257.2h.01M83.0 258.5h.01M58.1 256.5h.01M66.1 256.5h.01M82.1 255.9h.01M51.4 257.5h.01M84.8 254.9h.01M88.4 250.7h.01M56.3 260.6h.01M69.3 257.7h.01M62.0 250.8h.01M68.6 259.6h.01M66.7 256.2h.01M84.8 256.8h.01M89.5 255.3h.01M95.9 259.1h.01M67.8 251.5h.01M95.1 261.0h.01M61.0 254.6h.01M62.2 253.8h.01M88.9 251.7h.01M59.4 251.7h.01M86.1 263.9h.01M68.9 253.2h.01M75.1 258.9h.01M56.6 253.9h.01M73.6 255.0h.01M55.3 254.7h.01M56.6 257.0h.01M51.4 260.2h.01M80.6 253.8h.01M89.0 262.1h.01M64.9 264.5h.01M79.0 264.3h.01M55.0 261.8h.01M60.2 259.1h.01M76.2 262.7h.01M48.8 256.0h.01M63.5 252.3h.01M75.8 261.6h.01M83.5 250.6h.01M58.4 259.9h.01M77.1 251.3h.01"/>
<path stroke="#9164c4" stroke-width="1.8" d="M97.3 251.6h.01M100.2 251.6h.01M138.7 277.8h.01"/>
<path stroke="#da2224" stroke-width="1.8" d="M107.1 261.7h.01M135.0 273.3h.01M121.4 259.5h.01M134.9 263.1h.01M144.4 260.4h.01M135.9 269.9h.01M131.1 267.4h.01M142.3 269.5h.01M143.9 263.9h.01M134.4 252.7h.01M144.6 259.0h.01M135.8 262.6h.01M131.5 250.7h.01M140.5 254.6h.01M105.1 256.1h.01M141.3 271.5h.01M113.7 254.5h.01M136.9 274.1h.01M129.2 263.1h.01M110.6 263.4h.01M115.8 260.8h.01M142.7 266.2h.01M118.9 262.9h.01M110.5 255.0h.01M112.2 252.0h.01M118.0 263.2h.01M127.8 262.2h.01M132.1 265.8h.01M140.4 267.5h.01M103.7 251.3h.01M106.1 254.9h.01M145.3 263.5h.01M139.7 265.7h.01M123.1 263.8h.01M98.9 262.5h.01M134.9 271.3h.01M118.3 261.6h.01M119.8 261.7h.01M128.1 260.3h.01M114.0 262.2h.01M110.4 264.3h.01M133.1 252.7h.01M110.6 258.0h.01M101.0 261.8h.01M121.6 262.6h.01M110.8 254.1h.01M127.0 257.2h.01M140.2 269.0h.01M126.8 260.3h.01M117.3 258.8h.01M119.2 254.9h.01M129.7 267.0h.01M136.0 266.8h.01M132.7 260.8h.01M131.9 264.3h.01M139.1 270.2h.01M110.2 261.8h.01M106.2 253.2h.01M130.6 263.2h.01M130.2 256.9h.01M133.2 268.4h.01M133.6 260.5h.01M115.2 255.7h.01M130.9 254.6h.01M123.4 256.4h.01M137.7 271.6h.01M130.0 260.2h.01M120.8 264.7h.01M105.8 259.8h.01M117.5 255.2h.01M128.2 263.2h.01M121.7 253.4h.01M135.0 260.7h.01M112.5 256.4h.01M109.8 262.7h.01M106.4 251.1h.01M135.2 275.4h.01M130.8 265.9h.01M107.7 254.9h.01M106.4 263.9h.01M100.1 262.3h.01M142.1 268.0h.01M130.8 252.6h.01M137.2 256.2h.01M133.0 254.3h.01M130.5 269.6h.01M111.3 255.7h.01M121.1 263.7h.01M109.0 264.5h.01M123.5 255.9h.01M139.0 257.8h.01M137.6 265.1h.01M118.3 257.3h.01M109.9 256.2h.01M126.4 261.8h.01M105.5 258.2h.01M128.9 261.7h.01M107.5 252.2h.01M123.9 265.0h.01M127.4 255.4h.01M111.7 262.3h.01M128.0 265.0h.01M132.5 256.4h.01M125.5 267.1h.01M125.4 250.9h.01M126.9 252.2h.01M133.8 262.6h.01M110.7 251.9h.01M108.7 255.9h.01M123.4 252.2h.01M112.1 254.9h.01M132.4 267.4h.01M128.5 257.8h.01M124.0 261.6h.01M143.7 259.2h.01M128.0 256.7h.01M128.5 253.1h.01M131.6 268.6h.01M133.7 257.5h.01M110.0 259.0h.01M114.5 264.1h.01M124.2 259.4h.01M126.0 257.8h.01M102.2 263.3h.01M116.1 262.9h.01M138.5 273.4h.01M107.3 261.0h.01M118.9 259.4h.01M118.6 253.7h.01M114.2 256.5h.01M118.2 261.2h.01M136.8 253.2h.01M105.7 253.9h.01M134.1 269.2h.01M138.5 271.3h.01M112.9 258.1h.01M138.8 259.0h.01M136.8 262.0h.01M131.7 269.8h.01M126.3 264.7h.01M120.0 258.2h.01M122.2 259.9h.01M139.4 254.6h.01M115.6 253.6h.01M136.4 268.6h.01M117.0 257.6h.01M128.5 255.0h.01M130.1 253.7h.01M106.0 263.0h.01M141.7 263.5h.01M135.7 252.8h.01M108.6 251.7h.01M104.6 263.1h.01"/>
<path stroke="#da2224" stroke-width="1.8" d="M117.0 247.3h.01M94.0 248.0h.01M157.0 274.5h.01"/>
<path stroke="#8c564b" stroke-width="1.8" d="M190.0 288.7h.01M177.9 289.8h.01M177.4 286.3h.01M172.7 283.3h.01M172.8 287.2h.01M181.5 286.2h.01M162.7 283.4h.01M164.3 285.5h.01M168.3 291.3h.01M165.5 281.3h.01M154.4 286.2h.01M187.4 284.8h.01M162.8 289.7h.01M161.2 291.5h.01M169.9 281.8h.01M180.8 293.7h.01M158.0 281.5h.01M154.4 282.7h.01M184.5 284.1h.01M144.1 277.2h.01M161.1 280.3h.01M166.0 283.9h.01M176.8 284.6h.01M153.4 283.4h.01M150.4 277.4h.01M183.4 294.0h.01M153.9 276.1h.01M179.5 292.1h.01M162.8 286.5h.01M175.9 280.8h.01M175.0 286.2h.01M182.1 284.1h.01M168.2 288.3h.01M172.4 289.6h.01M161.9 285.4h.01M188.1 287.1h.01M183.9 290.9h.01M155.6 285.7h.01M186.5 284.5h.01M155.7 277.7h.01M174.4 287.1h.01M165.6 289.7h.01M167.1 285.8h.01M160.1 288.6h.01M156.9 278.8h.01M154.8 276.6h.01M170.1 288.4h.01M182.5 289.3h.01M184.8 288.4h.01M175.2 280.1h.01M191.7 287.0h.01M165.7 291.4h.01M192.3 290.4h.01M184.0 285.6h.01M173.1 293.3h.01M178.7 293.6h.01M182.3 291.2h.01M183.8 286.5h.01M154.6 283.7h.01M171.4 280.0h.01M149.5 275.7h.01M179.3 283.5h.01M166.8 278.4h.01M179.9 287.1h.01M156.3 286.6h.01M178.9 287.5h.01M170.5 278.3h.01M189.6 284.4h.01M185.4 288.7h.01M181.1 288.1h.01M174.3 290.8h.01M174.2 288.6h.01M174.0 282.3h.01M158.8 283.0h.01M148.3 275.4h.01M172.1 283.1h.01M188.4 288.8h.01M185.9 283.3h.01M158.5 280.1h.01M155.7 284.2h.01M189.5 289.7h.01M167.0 289.8h.01M187.5 287.5h.01M164.6 284.4h.01M174.8 292.0h.01M180.5 281.6h.01M154.7 278.0h.01M156.8 284.8h.01M166.1 288.4h.01M184.5 292.7h.01M149.1 278.9h.01M171.1 282.2h.01M180.4 290.5h.01M181.8 289.8h.01M163.8 280.5h.01M177.4 285.3h.01M155.1 279.2h.01M153.8 277.3h.01M159.1 280.7h.01M170.8 281.1h.01M190.1 292.9h.01M190.9 285.2h.01M151.6 276.4h.01M146.8 278.5h.01M149.4 280.1h.01M170.4 285.6h.01M192.8 286.9h.01M191.9 286.5h.01M186.9 283.4h.01M165.0 288.3h.01M156.2 282.2h.01M169.9 283.8h.01M157.7 288.3h.01M141.8 277.7h.01M159.9 282.9h.01M164.4 290.0h.01M185.2 294.1h.01M178.2 284.0h.01M182.6 281.6h.01M165.8 283.0h.01M176.3 294.3h.01M187.7 293.2h.01M172.3 292.0h.01M160.0 286.7h.01M165.9 287.5h.01M177.0 279.7h.01M172.7 291.1h.01M162.7 282.7h.01M180.8 291.8h.01M186.9 286.3h.01M190.8 290.1h.01M148.4 277.6h.01M143.0 277.6h.01M190.2 286.9h.01M187.4 290.0h.01M159.2 287.2h.01M176.7 282.9h.01M185.5 286.1h.01M157.8 286.6h.01M171.5 283.5h.01M165.8 280.1h.01M155.2 281.2h.01M189.0 292.2h.01M147.7 277.6h.01M172.0 288.8h.01M158.4 284.5h.01M151.7 280.4h.01M150.9 274.8h.01M168.7 292.3h.01M154.4 281.7h.01M191.0 291.8h.01M175.1 294.8h.01M178.5 282.8h.01M179.7 284.2h.01M161.0 283.6h.01M177.8 293.5h.01"/>
<path stroke="#8c564b" stroke-width="1.8" d="M106.4 245.0h.01M106.4 244.0h.01M181.8 275.7h.01"/>
<path stroke="#ff7f0e" stroke-width="1.8" d="M104.5 352.4h.01M124.9 358.3h.01M106.2 356.3h.01M115.8 358.9h.01M115.4 353.8h.01M118.8 344.7h.01M111.2 352.9h.01M124.5 346.1h.01M117.9 349.3h.01M111.8 358.2h.01M112.6 352.0h.01M113.7 345.1h.01M119.1 340.2h.01M133.2 353.7h.01M103.5 351.9h.01M132.6 356.4h.01M119.1 358.1h.01M126.5 354.4h.01M130.9 344.3h.01M106.8 358.2h.01M116.3 347.7h.01M127.0 359.6h.01M130.1 346.7h.01M116.7 355.7h.01M116.8 345.0h.01M133.7 345.0h.01M132.6 348.9h.01M118.5 355.8h.01M117.8 351.6h.01M135.9 349.4h.01M109.0 346.2h.01M110.7 347.3h.01M128.9 358.5h.01M110.7 349.7h.01M101.9 350.4h.01M121.0 351.4h.01M110.4 354.1h.01M106.7 354.0h.01M110.0 343.6h.01M104.8 354.0h.01M117.8 359.6h.01M108.2 358.7h.01M105.0 348.0h.01M125.9 347.7h.01M121.4 355.8h.01M130.9 357.4h.01M118.5 360.8h.01M113.8 343.3h.01M114.3 355.2h.01M126.3 346.1h.01M116.8 357.2h.01M131.0 346.9h.01M120.5 345.6h.01M106.5 349.6h.01M97.4 359.6h.01M125.1 351.0h.01M129.1 355.4h.01M103.8 350.3h.01M119.7 352.8h.01M135.0 347.3h.01M116.4 343.1h.01M130.2 351.6h.01M127.3 356.0h.01M117.8 347.8h.01M107.7 352.4h.01M134.4 354.7h.01M99.9 356.0h.01M110.3 350.7h.01M110.7 360.5h.01M101.4 349.0h.01M120.9 340.8h.01M123.0 347.1h.01M107.9 355.1h.01M120.3 344.4h.01M127.8 352.0h.01M121.3 347.6h.01M100.7 352.8h.01M114.6 349.5h.01M106.8 348.5h.01M131.8 354.6h.01M119.2 354.7h.01M110.9 359.4h.01M113.5 341.7h.01M102.1 353.4h.01M104.2 355.8h.01M124.1 348.5h.01M110.2 348.7h.01M129.3 343.7h.01M133.6 350.2h.01M125.7 357.1h.01M128.8 345.1h.01M127.5 343.3h.01M121.8 358.8h.01M103.8 356.6h.01M110.5 354.9h.01M116.0 345.5h.01M112.5 343.3h.01M134.0 348.1h.01M119.6 341.9h.01M101.5 359.8h.01M115.6 359.8h.01M102.5 352.5h.01M123.8 359.2h.01M122.8 350.6h.01M118.6 352.7h.01M106.7 351.5h.01M101.4 354.5h.01M122.7 356.2h.01M112.0 342.2h.01M120.6 347.4h.01M114.7 345.8h.01M100.7 350.4h.01M112.7 359.0h.01M129.1 349.1h.01M131.8 350.1h.01M119.4 345.9h.01M125.4 343.9h.01M116.4 349.4h.01M126.9 354.1h.01M124.7 340.8h.01M125.0 342.5h.01M115.5 351.0h.01M117.2 353.8h.01M102.8 358.3h.01M112.3 344.7h.01M129.9 357.3h.01M121.9 349.9h.01M133.8 355.3h.01M106.4 359.3h.01M127.9 355.4h.01M115.5 343.4h.01M125.7 340.7h.01M131.4 352.2h.01M127.2 357.4h.01M132.6 355.8h.01M122.7 359.3h.01M109.2 351.0h.01M118.6 359.1h.01M117.3 359.0h.01M104.6 347.5h.01M103.3 353.9h.01M121.3 341.5h.01M126.2 341.4h.01M113.8 350.5h.01M111.9 357.7h.01M127.9 348.9h.01M130.2 352.6h.01M125.4 355.2h.01M122.6 341.9h.01M99.8 360.4h.01M113.3 355.2h.01M112.7 347.6h.01M122.7 355.1h.01M117.3 360.9h.01M120.4 359.6h.01M125.3 359.4h.01M123.2 344.9h.01M131.3 348.4h.01"/>
<path stroke="#ff7f0e" stroke-width="1.8" d="M69.3 381.4h.01"/>
<path stroke="#2ca02c" stroke-width="1.8" d="M52.5 384.8h.01M71.4 401.4h.01M57.5 392.2h.01M69.0 389.9h.01M76.6 405.8h.01M68.0 383.2h.01M48.0 391.1h.01M68.7 399.9h.01M72.3 396.8h.01M51.4 392.2h.01M74.6 389.2h.01M76.7 398.0h.01M65.2 382.8h.01M67.0 386.7h.01M50.3 386.1h.01M53.9 395.7h.01M52.9 395.7h.01M82.4 394.5h.01M73.7 401.8h.01M65.6 394.6h.01M81.3 396.3h.01M80.0 406.4h.01M65.7 387.2h.01M58.4 386.4h.01M75.5 400.0h.01M71.1 392.5h.01M80.3 391.9h.01M75.3 392.1h.01M83.7 403.2h.01M48.4 385.1h.01M65.0 391.5h.01M56.5 385.0h.01M73.2 392.6h.01M67.2 384.1h.01M52.9 394.0h.01M81.1 405.8h.01M83.5 397.3h.01M81.9 400.5h.01M58.7 391.3h.01M81.8 403.7h.01M77.3 398.4h.01M66.3 393.2h.01M85.9 397.0h.01M76.5 402.2h.01M63.0 387.8h.01M65.8 383.7h.01M81.3 392.1h.01M59.5 396.8h.01M69.1 392.2h.01M62.7 389.3h.01M70.3 386.6h.01M79.1 391.0h.01M72.3 401.0h.01M65.4 386.1h.01M63.3 398.7h.01M78.7 403.9h.01M50.0 394.7h.01M59.3 386.3h.01M52.9 387.3h.01M77.3 399.9h.01M62.9 383.5h.01M85.9 399.7h.01M70.5 388.0h.01M49.6 383.7h.01M82.9 399.1h.01M73.8 405.0h.01M72.6 399.4h.01M63.8 392.3h.01M64.9 383.8h.01M51.9 393.4h.01M52.4 395.5h.01M67.6 394.1h.01M60.1 388.4h.01M51.8 394.7h.01M62.7 395.7h.01M54.1 388.0h.01M66.5 389.0h.01M81.1 403.1h.01M55.0 385.7h.01M72.4 389.0h.01M79.5 396.7h.01M76.2 401.1h.01M65.2 388.3h.01M56.2 392.9h.01M68.1 393.5h.01M70.3 388.6h.01M68.9 396.9h.01M82.1 401.9h.01M70.4 394.5h.01M70.4 396.6h.01M61.8 382.0h.01M69.7 395.8h.01M54.0 386.3h.01M59.6 386.8h.01M78.6 393.1h.01M78.3 399.3h.01M50.5 390.0h.01M65.7 397.4h.01M54.6 390.1h.01M57.2 395.3h.01M68.0 392.0h.01M78.5 394.5h.01M60.4 392.7h.01M77.9 395.7h.01M61.9 389.0h.01M67.7 396.4h.01M60.9 389.7h.01M52.5 391.8h.01M55.2 396.9h.01M81.7 395.1h.01M83.9 397.3h.01M75.8 398.8h.01M61.0 396.9h.01M52.1 383.7h.01M52.0 387.1h.01M68.8 383.9h.01M81.0 397.6h.01M47.0 387.1h.01M58.0 383.3h.01M56.7 387.8h.01M66.2 399.3h.01M71.6 402.4h.01M57.2 393.4h.01M55.9 395.2h.01M81.6 399.8h.01M53.5 392.4h.01M74.6 395.1h.01M79.8 398.0h.01M84.5 394.6h.01M56.3 389.6h.01M72.0 399.1h.01M74.0 392.7h.01M56.1 386.7h.01M63.4 385.2h.01M50.8 385.3h.01M67.0 390.1h.01M84.5 403.4h.01M83.6 401.1h.01M80.9 404.3h.01M87.1 397.8h.01M51.8 385.3h.01M70.2 400.1h.01M69.0 402.1h.01M58.2 387.4h.01M54.0 384.5h.01M69.5 391.1h.01M59.3 383.5h.01M78.3 389.8h.01M81.3 393.7h.01M64.6 389.1h.01M58.3 389.9h.01M79.9 402.6h.01M57.1 387.4h.01"/>
<path stroke="#2ca02c" stroke-width="1.8" d="M98.8 362.0h.01M100.3 361.8h.01M101.8 362.0h.01M103.3 361.7h.01M104.8 361.9h.01M106.0 361.7h.01"/>
<path stroke="#1c74bc" stroke-width="1.8" d="M113.5 428.5h.01M111.8 427.6h.01M115.1 418.6h.01M104.6 431.4h.01M106.1 422.0h.01M107.2 420.3h.01M85.4 408.0h.01M93.6 430.3h.01M118.6 424.9h.01M95.5 415.3h.01M91.1 412.3h.01M122.5 423.2h.01M88.3 410.6h.01M107.0 421.8h.01M112.7 421.8h.01M98.1 433.3h.01M102.0 428.5h.01M106.8 430.3h.01M106.7 424.0h.01M103.8 421.4h.01M100.6 418.0h.01M104.0 419.4h.01M104.9 426.8h.01M100.8 419.3h.01M118.4 422.8h.01M115.7 428.0h.01M102.7 423.6h.01M95.9 431.4h.01M115.6 425.5h.01M112.3 423.7h.01M106.5 425.8h.01M108.7 424.8h.01M97.0 417.3h.01M89.6 426.7h.01M94.4 427.5h.01M101.2 426.2h.01M98.5 431.5h.01M105.8 428.5h.01M90.9 424.8h.01M100.1 423.3h.01M90.6 420.1h.01M91.8 418.9h.01M102.6 426.7h.01M96.5 412.6h.01M111.9 418.3h.01M89.8 410.3h.01M103.0 432.7h.01M107.2 423.4h.01M83.9 426.5h.01M114.0 426.9h.01M111.3 419.4h.01M93.3 415.8h.01M110.0 428.2h.01M101.4 429.6h.01M92.3 433.2h.01M102.6 419.2h.01M99.1 429.2h.01M98.5 417.5h.01M91.1 431.7h.01M96.3 432.4h.01M105.3 423.4h.01M92.3 430.5h.01M91.1 414.5h.01M106.4 431.3h.01M98.2 419.7h.01M110.5 420.5h.01M99.6 418.7h.01M99.1 424.9h.01M103.9 418.2h.01M108.1 422.4h.01M98.0 424.3h.01M96.9 415.8h.01M96.0 426.8h.01M98.1 427.2h.01M101.9 418.1h.01M99.2 425.7h.01M102.9 418.5h.01M101.9 432.3h.01M94.7 415.3h.01M99.7 430.7h.01M85.4 426.5h.01M95.5 428.2h.01M110.0 417.6h.01M108.0 430.6h.01M100.0 428.4h.01M95.0 420.9h.01M110.7 423.5h.01M117.6 423.3h.01M110.4 421.7h.01M119.6 423.9h.01M106.7 427.8h.01M89.5 428.7h.01M108.8 417.8h.01M116.3 423.5h.01M89.1 417.4h.01M108.7 426.3h.01M97.8 414.0h.01M91.4 426.7h.01M93.9 424.1h.01M92.8 425.0h.01M115.2 428.9h.01M91.6 413.4h.01M102.4 428.9h.01M100.3 422.3h.01M121.4 421.7h.01M103.6 430.8h.01M105.7 419.9h.01M91.9 423.6h.01M103.7 425.2h.01M112.1 428.5h.01M104.5 420.9h.01M92.3 432.0h.01M117.8 423.9h.01M94.8 418.0h.01M111.5 421.1h.01M90.3 423.6h.01M87.6 425.6h.01M102.2 421.3h.01M101.4 423.1h.01M108.0 425.5h.01M120.5 423.2h.01M99.4 433.0h.01M91.6 421.3h.01M107.1 416.3h.01M96.4 416.3h.01M86.9 409.1h.01M94.8 430.0h.01M97.6 420.0h.01M101.0 433.2h.01M101.6 431.6h.01M105.7 425.7h.01M95.3 412.5h.01M88.1 424.7h.01M97.8 430.2h.01M90.6 429.8h.01M111.4 425.3h.01"/>
<path stroke="#1c74bc" stroke-width="1.8" d="M79.6 426.3h.01M110.5 362.0h.01M113.4 362.0h.01M163.4 431.6h.01"/>
<path stroke="#8c564b" stroke-width="1.8" d="M226.1 350.8h.01M231.6 352.3h.01M236.2 374.9h.01M233.0 352.5h.01M206.4 360.1h.01M215.0 352.6h.01M223.2 361.2h.01M231.7 355.7h.01M222.8 351.0h.01M221.3 354.0h.01M222.6 353.8h.01M210.6 354.5h.01M231.9 368.0h.01M217.0 355.0h.01M217.9 356.9h.01M203.6 355.9h.01M226.9 361.9h.01M232.9 357.1h.01M217.8 349.1h.01M222.1 366.1h.01M233.6 357.9h.01M225.7 359.0h.01M236.1 360.3h.01M213.0 359.5h.01M234.3 373.7h.01M221.1 356.3h.01M222.2 352.4h.01M232.1 359.4h.01M223.2 369.1h.01M219.9 361.7h.01M230.7 359.8h.01M205.1 355.0h.01M207.7 358.7h.01M233.2 375.4h.01M232.1 369.1h.01M219.0 351.2h.01M235.2 366.6h.01M223.1 349.2h.01M215.6 355.2h.01M215.9 362.2h.01M232.5 372.5h.01M226.0 354.1h.01M209.4 354.7h.01M235.8 361.9h.01M209.5 359.0h.01M210.8 357.0h.01M228.7 373.6h.01M225.9 369.9h.01M219.6 353.5h.01M223.5 360.2h.01M225.0 350.8h.01M210.2 357.4h.01M209.9 360.5h.01M205.7 355.6h.01M235.1 370.7h.01M215.4 363.6h.01M230.4 367.4h.01M234.8 375.5h.01M230.3 358.9h.01M235.3 353.5h.01M229.4 364.1h.01M224.6 365.0h.01M235.1 361.1h.01M236.8 369.9h.01M236.6 368.2h.01M229.8 370.8h.01M217.0 360.8h.01M234.2 360.5h.01M226.8 368.2h.01M225.8 365.0h.01M204.1 360.4h.01M232.9 364.6h.01M236.7 372.6h.01M228.9 354.1h.01M207.5 355.2h.01M230.5 356.3h.01M232.3 367.1h.01M214.1 356.7h.01M209.6 361.5h.01M217.1 359.6h.01M224.2 368.1h.01M222.5 361.9h.01M218.8 359.4h.01M231.6 363.6h.01M213.6 360.3h.01M227.3 363.2h.01M212.5 352.3h.01M211.3 358.5h.01M237.4 363.5h.01M209.0 355.2h.01M227.5 360.2h.01M236.2 371.4h.01M227.3 354.3h.01M226.5 358.3h.01M221.0 359.2h.01M232.9 355.2h.01M233.6 372.7h.01M228.6 355.1h.01M222.4 354.8h.01M226.9 362.5h.01M215.0 350.4h.01M226.6 349.3h.01M214.4 354.9h.01M236.6 362.9h.01M236.7 364.2h.01M229.1 369.3h.01M220.9 352.5h.01M227.1 356.7h.01M212.1 360.4h.01M220.7 349.0h.01M229.0 372.2h.01M212.6 355.0h.01M220.1 362.3h.01M224.7 348.7h.01M217.9 352.8h.01M210.3 355.2h.01M226.9 360.4h.01M225.2 352.3h.01M205.9 361.5h.01M234.3 353.8h.01M232.3 356.2h.01M212.7 356.3h.01M210.4 356.1h.01M223.5 367.4h.01M204.3 353.5h.01M220.3 360.1h.01M228.6 356.5h.01M234.3 362.9h.01M226.9 369.8h.01M236.7 357.6h.01M225.6 350.0h.01M223.2 353.5h.01M227.3 365.7h.01M227.0 358.4h.01M222.4 360.0h.01M223.9 362.7h.01M235.7 363.7h.01M214.9 358.9h.01M230.9 373.9h.01M235.7 369.4h.01M213.2 353.1h.01M216.4 354.1h.01M205.0 353.5h.01M218.3 357.9h.01M207.1 356.4h.01M224.9 372.6h.01M234.0 355.9h.01M234.6 369.0h.01M235.0 376.1h.01M221.4 351.0h.01M208.6 356.5h.01M212.0 358.6h.01M216.0 356.7h.01M230.8 353.0h.01M213.4 362.2h.01M221.0 363.9h.01M223.9 363.9h.01M217.6 362.2h.01"/>
<path stroke="#9164c4" stroke-width="1.8" d="M171.0 398.8h.01M158.9 395.1h.01M184.0 396.1h.01M162.7 391.0h.01M166.7 398.1h.01M164.3 398.0h.01M174.1 398.1h.01M165.9 396.4h.01M189.3 390.5h.01M163.1 386.0h.01M168.9 398.4h.01M184.4 393.3h.01M158.0 392.6h.01M161.8 396.3h.01M164.5 390.1h.01M180.7 400.8h.01M190.9 397.5h.01M187.1 395.2h.01M171.8 393.1h.01M178.1 398.5h.01M185.0 399.4h.01M187.6 398.8h.01M182.3 393.2h.01M179.7 398.8h.01M166.7 393.9h.01M185.9 400.0h.01M185.2 391.3h.01M167.2 390.8h.01M178.0 400.0h.01M157.7 389.4h.01M190.9 395.4h.01M167.2 387.3h.01M167.8 391.6h.01M169.9 387.6h.01M160.5 395.4h.01M160.6 386.6h.01M182.2 396.3h.01M168.4 395.3h.01M167.4 396.0h.01M162.4 394.3h.01M183.0 389.7h.01M166.8 386.3h.01M162.7 386.0h.01M173.3 391.0h.01M190.8 394.5h.01M165.7 399.2h.01M170.8 390.2h.01M190.3 392.5h.01M182.8 401.2h.01M161.8 392.3h.01M186.4 390.2h.01M190.1 390.9h.01M166.0 388.3h.01M174.4 387.2h.01M177.2 391.0h.01M163.1 397.2h.01M185.5 400.9h.01M166.3 400.0h.01M190.0 400.5h.01M174.1 400.0h.01M166.0 390.3h.01M173.2 402.0h.01M163.7 389.5h.01M173.1 400.3h.01M167.7 385.7h.01M163.9 392.6h.01M169.5 393.0h.01M181.1 391.8h.01M170.4 386.2h.01M163.2 388.8h.01M169.7 389.4h.01M180.4 392.3h.01M158.2 393.8h.01M176.8 401.4h.01M177.7 392.3h.01M181.1 394.5h.01M169.1 394.3h.01M168.8 400.7h.01M191.3 395.0h.01M161.6 391.3h.01M192.5 396.8h.01M192.7 394.8h.01M183.7 390.6h.01M179.0 391.5h.01M168.0 393.3h.01M178.9 389.3h.01M180.2 389.9h.01M175.4 390.9h.01M168.9 389.7h.01M181.4 397.0h.01M169.2 388.7h.01M185.4 393.3h.01M187.1 391.3h.01M161.2 389.7h.01M163.8 387.1h.01M175.3 388.8h.01M193.0 392.2h.01M174.9 394.9h.01M183.2 398.4h.01M170.6 401.6h.01M177.4 388.6h.01M158.6 387.2h.01M164.1 393.8h.01M159.3 396.8h.01M189.3 397.0h.01M163.9 385.2h.01M173.6 389.9h.01M174.9 399.2h.01M172.1 390.8h.01M159.8 393.0h.01M157.2 390.4h.01M173.1 389.1h.01M186.3 397.9h.01M176.8 395.6h.01M176.6 397.3h.01M180.5 398.6h.01M175.5 401.4h.01M166.3 396.6h.01M170.6 393.1h.01M186.3 399.1h.01M161.9 387.3h.01M170.4 391.2h.01M171.6 401.5h.01M175.9 391.6h.01M182.4 399.7h.01M167.0 394.9h.01M178.8 394.3h.01M178.5 392.8h.01M159.5 394.3h.01M180.8 399.8h.01M186.8 400.4h.01M181.0 397.3h.01M175.5 397.5h.01M172.2 394.8h.01M167.9 387.2h.01M168.7 396.2h.01M158.0 396.1h.01M168.4 392.4h.01M175.8 400.7h.01M167.0 391.7h.01M169.4 401.4h.01M173.0 397.1h.01M182.1 398.6h.01M174.6 392.9h.01"/>
<path stroke="#9164c4" stroke-width="1.8" d="M203.5 394.7h.01M203.0 395.1h.01M203.0 393.3h.01M200.4 393.7h.01M204.6 395.8h.01M199.6 395.4h.01M203.6 395.3h.01M201.1 393.7h.01M199.0 394.7h.01M201.5 393.5h.01M201.1 392.8h.01M203.7 394.3h.01M202.9 394.1h.01M200.9 396.3h.01M204.3 395.0h.01M202.2 396.4h.01"/>
<path stroke="#9164c4" stroke-width="1.8" d="M128.2 364.0h.01"/>
<path stroke="#da2224" stroke-width="1.8" d="M241.9 397.2h.01M251.2 400.1h.01M241.0 387.3h.01M229.7 389.7h.01M227.1 396.0h.01M236.6 398.0h.01M233.9 387.1h.01M238.8 388.4h.01M251.2 399.0h.01M234.2 396.6h.01M248.7 401.5h.01M225.5 391.8h.01M246.9 398.4h.01M211.4 397.4h.01M239.7 390.0h.01M241.7 390.0h.01M229.0 389.7h.01M249.0 398.9h.01M258.0 394.3h.01M221.7 396.6h.01M235.6 386.6h.01M249.5 395.8h.01M226.5 392.6h.01M250.5 387.1h.01M228.9 395.3h.01M213.5 396.6h.01M252.4 394.9h.01M240.1 392.8h.01M251.1 401.8h.01M223.6 393.2h.01M256.7 399.0h.01M231.2 399.8h.01M222.5 393.0h.01M247.6 403.0h.01M231.0 388.0h.01M230.5 396.0h.01M226.2 395.8h.01M209.5 392.5h.01M259.0 397.4h.01M233.4 391.9h.01M239.2 400.3h.01M251.0 397.0h.01M254.9 398.9h.01M255.8 394.9h.01M237.6 394.0h.01M252.7 397.4h.01M245.0 388.2h.01M234.9 398.2h.01M241.4 399.1h.01M244.7 390.5h.01M252.6 399.3h.01M232.4 400.7h.01M257.3 400.4h.01M256.1 392.5h.01M222.7 393.9h.01M245.2 391.3h.01M242.0 393.8h.01M253.3 393.2h.01M222.7 398.1h.01M250.8 387.7h.01M225.3 394.0h.01M240.4 402.1h.01M256.1 399.7h.01M244.3 387.4h.01M235.0 399.4h.01M242.5 393.4h.01M238.5 401.7h.01M216.9 396.2h.01M250.0 396.8h.01M239.7 386.7h.01M238.7 391.2h.01M229.0 391.9h.01M256.9 395.2h.01M249.2 388.8h.01M220.7 395.3h.01M222.7 395.0h.01M238.5 393.5h.01M235.6 393.0h.01M237.1 401.4h.01M242.0 401.7h.01M245.2 400.7h.01M238.8 396.9h.01M207.2 394.4h.01M250.4 392.4h.01M252.3 401.5h.01M235.8 396.4h.01M249.8 394.2h.01M249.5 391.1h.01M223.1 396.6h.01M246.0 388.2h.01M225.2 399.3h.01M236.3 399.9h.01M226.4 394.2h.01M225.2 395.1h.01M249.0 393.6h.01M233.0 397.2h.01M245.1 398.2h.01M243.0 392.5h.01M231.4 391.8h.01M253.5 395.4h.01M255.5 389.4h.01M254.6 400.4h.01M239.2 398.3h.01M246.3 393.6h.01M229.7 397.8h.01M237.9 387.0h.01M243.6 396.8h.01M211.8 394.7h.01M243.3 402.3h.01M227.1 396.9h.01M215.5 395.5h.01M233.6 388.4h.01M236.9 388.5h.01M242.5 387.0h.01M247.9 389.5h.01M254.4 397.9h.01M227.8 389.4h.01M229.8 388.7h.01M257.1 390.9h.01M243.5 398.2h.01"/>
<path stroke="#da2224" stroke-width="1.8" d="M233.8 390.2h.01M257.7 396.8h.01M241.3 386.9h.01M243.5 388.9h.01M257.0 393.1h.01M246.2 398.6h.01M255.3 392.8h.01M254.1 399.0h.01M234.9 394.8h.01M248.2 389.5h.01M235.8 399.1h.01M254.9 394.5h.01M248.4 396.8h.01M240.1 387.5h.01M239.4 392.3h.01M241.9 394.8h.01M235.3 386.5h.01M237.2 401.3h.01M249.7 388.9h.01M250.0 399.1h.01M239.1 399.5h.01M243.6 402.7h.01M252.7 398.7h.01M235.2 400.0h.01M240.1 398.9h.01M237.8 396.6h.01M242.8 400.2h.01M234.5 396.6h.01M252.2 399.9h.01M257.7 399.6h.01M252.8 388.8h.01M236.8 386.7h.01M236.9 392.6h.01"/>
<path stroke="#da2224" stroke-width="1.8" d="M209.5 394.7h.01M215.9 396.0h.01M215.2 394.3h.01M211.0 394.2h.01M219.7 394.9h.01M221.1 395.9h.01M207.2 395.8h.01M213.0 396.8h.01M221.5 395.9h.01M212.0 395.0h.01M218.2 396.1h.01M212.0 394.8h.01M214.5 394.6h.01M209.0 394.7h.01M218.0 396.6h.01M217.9 394.2h.01M215.5 396.6h.01M216.9 396.8h.01M218.3 394.6h.01M216.0 394.0h.01"/>
<path stroke="#da2224" stroke-width="1.8" d="M234.4 375.0h.01M235.0 377.0h.01M191.8 425.0h.01M194.3 427.5h.01M196.7 426.7h.01M198.4 426.7h.01M199.2 427.5h.01"/>
<path stroke="#e670c8" stroke-width="1.8" d="M204.2 434.7h.01M179.3 437.5h.01M204.9 433.1h.01M183.9 434.2h.01M170.6 437.1h.01M175.0 433.9h.01M179.6 432.0h.01M206.0 436.6h.01M201.0 441.0h.01M176.1 435.0h.01M169.2 429.8h.01M190.2 430.8h.01M193.6 443.6h.01M187.1 434.1h.01M200.7 435.1h.01M197.7 436.8h.01M175.3 435.9h.01M198.6 440.9h.01M188.0 442.0h.01M174.3 432.2h.01M201.3 439.0h.01M182.8 428.9h.01M197.6 430.9h.01M184.5 445.0h.01M175.8 438.0h.01M173.0 428.8h.01M175.5 430.4h.01M192.5 438.8h.01M195.2 442.9h.01M173.7 433.2h.01M169.0 433.4h.01M195.1 436.7h.01M184.3 427.3h.01M186.4 436.8h.01M192.4 435.4h.01M180.1 437.2h.01M178.5 434.2h.01M197.8 440.2h.01M189.1 432.5h.01M191.5 442.9h.01M177.9 441.2h.01M192.6 441.8h.01M180.4 442.7h.01M191.3 431.4h.01M203.5 434.3h.01M172.1 430.9h.01M193.6 444.4h.01M166.1 434.0h.01M187.0 431.9h.01M187.1 438.6h.01M184.9 442.5h.01M202.8 433.9h.01M202.3 437.7h.01M202.1 434.4h.01M185.4 428.9h.01M171.0 432.5h.01M190.2 443.6h.01M184.9 433.2h.01M171.5 435.9h.01M206.7 434.2h.01M203.6 431.5h.01M194.5 444.4h.01M188.7 438.4h.01M178.6 429.9h.01M186.7 430.3h.01M182.4 439.5h.01M195.3 435.4h.01M188.0 437.0h.01M198.5 435.0h.01M170.1 434.7h.01M197.0 435.1h.01M198.2 433.6h.01M172.1 433.3h.01M199.7 439.3h.01M171.9 429.4h.01M199.6 431.4h.01M181.4 433.4h.01M186.8 443.9h.01M178.4 431.5h.01M180.9 437.0h.01M179.4 441.5h.01M190.0 445.5h.01M170.2 428.5h.01M188.7 428.1h.01M168.1 433.8h.01M178.9 442.8h.01M193.7 434.8h.01M185.3 446.0h.01M174.9 430.6h.01M180.9 438.8h.01M195.0 431.9h.01M203.0 439.3h.01M207.2 433.4h.01M191.5 439.9h.01M188.1 433.0h.01M165.8 432.7h.01M178.7 435.0h.01M165.1 431.4h.01M174.8 438.9h.01M193.6 442.6h.01M180.5 431.7h.01M165.6 433.7h.01M187.3 428.2h.01M195.6 444.2h.01M185.9 431.2h.01M181.7 442.3h.01M199.1 432.7h.01M168.1 430.0h.01M201.7 431.3h.01M193.9 438.1h.01M196.3 430.8h.01M181.0 427.4h.01M189.4 441.6h.01M192.9 431.7h.01M196.6 443.4h.01M203.4 436.1h.01M204.6 439.7h.01M190.8 441.0h.01M187.3 440.9h.01M185.0 443.7h.01M183.9 443.2h.01M177.0 436.0h.01M200.5 431.9h.01M189.3 428.9h.01M174.4 435.2h.01M169.9 432.9h.01M183.0 440.8h.01M187.2 443.4h.01M201.6 432.8h.01M179.6 427.9h.01M181.3 439.6h.01M194.0 430.1h.01M178.6 436.1h.01M202.0 435.5h.01M196.0 441.2h.01M198.0 438.2h.01M185.9 432.3h.01M188.3 439.4h.01M190.4 432.4h.01M170.8 435.4h.01M179.8 429.7h.01M183.5 437.4h.01M188.4 431.9h.01M175.3 431.5h.01M170.4 431.5h.01M190.8 437.4h.01M186.1 438.5h.01M175.9 429.4h.01M192.3 444.0h.01M171.7 435.2h.01M181.7 443.7h.01M182.8 442.4h.01M180.6 433.9h.01M169.1 431.0h.01M172.2 437.2h.01M163.7 431.8h.01"/>
<path stroke="#e670c8" stroke-width="1.8" d="M155.7 433.7h.01M127.0 423.8h.01"/>
<path stroke="#da2224" stroke-width="1.7" d="M438.7 39.8h.01M426.3 38.9h.01M433.2 40.7h.01M437.7 40.8h.01M428.3 40.4h.01M436.9 41.3h.01M440.0 40.2h.01M430.0 41.6h.01M436.1 41.1h.01M426.9 41.2h.01M425.6 40.7h.01M426.7 40.4h.01M427.5 41.5h.01M426.0 38.6h.01M439.1 39.7h.01M436.8 40.0h.01M432.6 42.1h.01M434.3 38.0h.01M428.8 36.9h.01M436.7 37.8h.01M439.3 40.1h.01"/>
<path stroke="#ff7f0e" stroke-width="1.7" d="M367.5 60.2h.01M375.7 54.9h.01M368.6 62.8h.01M378.8 58.8h.01M376.6 54.4h.01M371.6 54.9h.01M376.7 60.9h.01M373.3 62.0h.01M376.2 56.0h.01M374.9 54.9h.01M376.2 60.3h.01M377.2 60.2h.01M366.9 62.0h.01M371.1 55.6h.01M374.1 54.2h.01M368.3 54.4h.01"/>
<path stroke="#9164c4" stroke-width="1.7" d="M356.6 74.7h.01M358.0 74.1h.01M355.7 73.4h.01M351.9 74.3h.01M349.3 75.7h.01M356.3 72.4h.01M354.5 73.4h.01M351.2 77.0h.01M353.5 75.1h.01M346.7 74.1h.01M346.1 72.0h.01M348.6 74.8h.01M345.7 75.6h.01M349.1 73.1h.01M347.7 75.1h.01M347.4 76.0h.01M357.7 74.7h.01M350.9 75.5h.01M352.2 75.5h.01M347.8 76.2h.01"/>
<path stroke="#9164c4" stroke-width="1.7" d="M405.3 56.0h.01M404.0 56.8h.01M403.0 59.6h.01M402.9 56.2h.01M399.6 59.2h.01M403.5 58.9h.01M407.7 61.6h.01M400.8 62.5h.01M402.4 59.3h.01M403.1 56.0h.01M397.8 59.0h.01M404.7 59.0h.01M398.7 57.1h.01M397.7 61.5h.01M399.8 56.0h.01M397.6 56.8h.01M398.8 56.4h.01M397.9 56.4h.01M405.5 61.0h.01M404.2 63.2h.01"/>
<path stroke="#17becf" stroke-width="1.7" d="M406.1 72.9h.01M391.2 72.1h.01M407.6 70.7h.01M406.0 71.7h.01M405.6 66.4h.01M406.0 69.6h.01M396.2 73.6h.01M412.8 71.1h.01M397.8 69.2h.01M392.6 68.7h.01M397.3 69.1h.01M408.0 67.4h.01M406.2 68.4h.01M396.6 73.4h.01M397.9 74.9h.01M397.0 73.9h.01M412.4 70.9h.01M393.5 68.2h.01M394.9 67.6h.01M403.2 72.2h.01M405.5 69.8h.01M406.4 67.9h.01M406.5 82.5h.01M411.1 86.1h.01M409.6 86.8h.01"/>
<path stroke="#ff7f0e" stroke-width="1.7" d="M389.9 76.9h.01M386.0 76.9h.01M383.3 76.0h.01M380.6 78.0h.01M385.1 79.7h.01M385.1 78.5h.01M386.7 79.7h.01M384.5 76.1h.01M388.3 80.2h.01M393.0 78.5h.01M379.6 75.7h.01M385.1 75.0h.01M392.0 76.3h.01M380.7 72.7h.01M381.2 75.2h.01M389.3 75.3h.01M392.3 80.1h.01M384.9 74.4h.01M388.9 78.7h.01M381.0 78.5h.01M381.7 78.8h.01M385.0 78.2h.01M400.5 80.6h.01M403.5 79.9h.01M403.4 86.6h.01M404.0 86.4h.01"/>
<path stroke="#7f7f7f" stroke-width="1.7" d="M331.6 90.9h.01M325.1 91.7h.01M330.5 90.7h.01M335.3 86.2h.01M331.8 91.0h.01M334.5 89.1h.01M330.5 88.0h.01M325.1 90.3h.01M334.3 85.7h.01M326.1 92.5h.01M332.9 89.4h.01M324.0 91.0h.01M334.0 88.3h.01M333.9 89.5h.01M329.5 87.2h.01M335.7 86.8h.01M326.7 91.3h.01M340.6 89.4h.01M331.4 95.5h.01M326.6 93.8h.01"/>
<path stroke="#bcbd22" stroke-width="1.7" d="M357.1 91.8h.01M362.7 89.5h.01M364.0 92.0h.01M364.1 94.4h.01M367.7 90.3h.01M365.2 92.4h.01M365.9 90.1h.01M359.6 91.4h.01M362.1 89.4h.01M358.1 91.8h.01M359.2 93.7h.01M364.0 89.9h.01M360.7 90.7h.01M366.8 92.0h.01M361.9 90.7h.01M363.2 91.7h.01M363.1 90.7h.01M360.3 95.2h.01M359.0 90.6h.01M363.8 94.7h.01"/>
<path stroke="#e670c8" stroke-width="1.7" d="M434.1 59.8h.01M434.1 60.0h.01M437.6 54.9h.01M435.0 59.2h.01M439.1 57.3h.01M438.6 56.3h.01M439.3 55.7h.01M437.4 55.4h.01M435.1 60.7h.01M431.5 62.2h.01M435.4 58.4h.01M439.9 56.8h.01M440.1 56.4h.01M432.7 60.9h.01M440.7 54.4h.01M434.4 59.8h.01M436.4 57.1h.01M435.0 60.3h.01"/>
<path stroke="#2ca02c" stroke-width="1.7" d="M445.7 72.8h.01M434.6 74.7h.01M432.7 72.5h.01M435.8 73.8h.01M437.9 73.7h.01M443.1 75.1h.01M442.7 71.2h.01M443.8 73.2h.01M431.4 75.5h.01M439.5 69.8h.01M433.1 75.4h.01M436.5 68.6h.01M441.9 70.9h.01M432.1 75.6h.01M432.7 68.9h.01M430.1 72.0h.01M436.6 73.4h.01M437.7 72.5h.01M440.9 70.2h.01M437.8 74.0h.01M439.4 73.0h.01M446.0 69.8h.01"/>
<path stroke="#1c74bc" stroke-width="1.7" d="M430.1 76.9h.01M430.1 76.5h.01"/>
<path stroke="#bcbd22" stroke-width="1.7" d="M457.9 82.5h.01M458.1 84.2h.01M460.4 80.8h.01M456.7 79.9h.01M453.3 81.4h.01M457.6 83.2h.01M456.9 78.8h.01M457.4 81.7h.01M455.1 83.4h.01M456.6 80.3h.01M455.4 82.6h.01M453.7 81.8h.01M440.8 85.3h.01M435.6 89.2h.01M436.2 79.6h.01M438.9 78.2h.01M443.5 85.3h.01M430.1 83.0h.01"/>
<path stroke="#1c74bc" stroke-width="1.7" d="M495.3 46.9h.01M495.0 50.0h.01M492.1 51.3h.01M499.6 47.9h.01M501.5 49.7h.01M499.4 50.4h.01M499.8 48.0h.01M502.5 49.2h.01M492.8 50.1h.01M495.9 46.6h.01M494.4 51.5h.01M496.8 48.1h.01M491.9 51.1h.01M497.1 49.5h.01M504.5 48.8h.01M499.2 50.9h.01M488.7 49.7h.01M493.5 47.5h.01M500.5 50.8h.01M499.6 49.7h.01M493.5 47.9h.01M493.5 49.7h.01"/>
<path stroke="#8c564b" stroke-width="1.7" d="M519.2 67.0h.01M513.4 64.8h.01M518.5 67.3h.01M514.0 67.4h.01M517.2 65.5h.01M526.2 62.9h.01M518.2 65.3h.01M526.0 66.0h.01M525.1 66.1h.01M527.3 64.5h.01M521.5 64.4h.01M515.2 64.0h.01M518.8 64.6h.01M519.7 62.6h.01M527.6 62.5h.01M524.1 63.7h.01M525.4 65.4h.01M521.4 64.5h.01M523.4 66.4h.01M526.7 62.5h.01M513.2 64.1h.01M524.7 65.2h.01"/>
<path stroke="#8c564b" stroke-width="1.7" d="M528.1 92.5h.01M523.9 97.2h.01M522.3 96.2h.01M528.8 95.8h.01M522.0 96.5h.01M530.4 93.7h.01M525.3 95.1h.01M523.2 94.2h.01M531.5 93.7h.01M525.9 96.7h.01M531.1 95.4h.01M531.7 91.2h.01M528.1 94.4h.01M529.0 95.0h.01M524.3 94.0h.01M527.2 91.9h.01M525.5 94.2h.01M529.8 94.3h.01M530.1 91.8h.01M531.2 93.0h.01"/>
<path stroke="#2ca02c" stroke-width="1.7" d="M396.6 105.0h.01M399.9 102.7h.01M400.9 101.0h.01M389.7 101.1h.01M394.6 103.1h.01M397.9 105.5h.01M398.3 100.8h.01M391.8 100.9h.01M400.0 102.3h.01M391.8 102.1h.01M393.1 101.4h.01M404.8 103.7h.01M391.1 106.0h.01M394.6 103.7h.01M395.2 103.4h.01M388.7 103.6h.01M400.0 100.9h.01M401.8 102.4h.01M393.8 104.8h.01M389.6 103.4h.01"/>
<path stroke="#1c74bc" stroke-width="1.7" d="M397.2 121.0h.01M399.5 122.3h.01M400.2 122.2h.01M403.1 116.0h.01M398.5 123.0h.01M402.2 117.2h.01M405.0 116.7h.01M401.4 120.6h.01M405.7 114.4h.01M400.1 119.4h.01M403.4 118.4h.01M401.0 120.9h.01M401.5 118.1h.01M405.2 116.2h.01M404.1 115.9h.01M397.5 123.6h.01M401.1 118.0h.01M398.6 120.3h.01M401.0 120.5h.01M402.0 118.1h.01"/>
<path stroke="#17becf" stroke-width="1.7" d="M421.2 94.8h.01M426.6 97.9h.01M427.4 92.2h.01M417.9 90.7h.01M421.2 93.9h.01M422.8 98.4h.01M426.0 96.2h.01M425.0 94.6h.01M424.0 95.5h.01M423.0 96.1h.01M426.0 99.6h.01M416.0 92.7h.01M424.1 94.1h.01M422.9 98.8h.01M424.5 99.3h.01M418.9 97.3h.01M418.0 90.5h.01M417.8 99.1h.01M421.1 98.1h.01M425.7 97.9h.01"/>
<path stroke="#e670c8" stroke-width="1.7" d="M453.9 98.9h.01M455.6 95.7h.01M455.8 97.3h.01M453.7 96.6h.01M453.7 93.0h.01M450.4 97.3h.01M459.2 97.4h.01M453.5 96.1h.01M459.0 96.5h.01M451.0 95.0h.01M452.9 97.2h.01M458.1 94.1h.01M450.7 95.7h.01M450.5 94.0h.01M452.4 97.5h.01M450.8 95.0h.01M466.9 96.1h.01M469.0 94.5h.01M469.8 95.8h.01M469.2 94.5h.01"/>
<path stroke="#da2224" stroke-width="1.7" d="M431.3 113.5h.01M432.0 109.3h.01M440.4 115.9h.01M436.7 111.2h.01M436.0 110.3h.01M442.7 111.5h.01M439.1 110.4h.01M435.1 112.1h.01M442.2 115.0h.01M438.7 114.7h.01M442.0 112.1h.01M436.9 112.1h.01M433.0 110.3h.01M441.0 112.2h.01M435.4 109.0h.01M432.4 110.3h.01M434.6 114.2h.01M434.4 112.8h.01M440.6 113.3h.01M434.2 114.9h.01M435.5 110.4h.01M432.8 112.0h.01M437.7 114.8h.01M441.5 111.0h.01"/>
<path stroke="#7f7f7f" stroke-width="1.7" d="M491.9 109.8h.01M490.8 115.4h.01M493.5 111.9h.01M488.9 115.2h.01M493.4 112.0h.01M490.7 115.1h.01M487.3 108.0h.01M488.6 114.1h.01M485.8 114.1h.01M490.0 115.3h.01M486.7 113.2h.01M492.7 109.4h.01M488.6 109.3h.01M489.4 109.2h.01M485.4 114.3h.01M489.6 112.2h.01M489.3 109.0h.01M489.6 113.3h.01"/>
<path stroke="#1c74bc" stroke-width="1.7" d="M488.1 140.1h.01M483.8 140.7h.01M480.8 142.3h.01M484.5 143.1h.01M487.7 139.3h.01M480.8 141.5h.01M486.1 139.9h.01M480.3 140.5h.01M484.3 140.3h.01M481.5 141.3h.01M488.4 139.5h.01M483.5 139.6h.01M486.8 138.1h.01M483.2 143.2h.01M485.3 140.6h.01M485.3 141.7h.01M480.9 141.4h.01M484.3 142.5h.01M486.8 137.2h.01M482.4 139.8h.01M485.6 137.6h.01M485.3 140.6h.01"/>
<path stroke="#8c564b" stroke-width="1.7" d="M392.2 189.5h.01M396.6 190.6h.01M392.0 189.0h.01M391.7 190.6h.01M393.5 193.4h.01M399.0 191.7h.01M391.2 190.1h.01M391.5 191.7h.01M392.5 187.7h.01M387.7 192.9h.01M396.8 188.5h.01M394.4 193.3h.01M390.0 191.8h.01M394.8 189.1h.01M391.3 189.3h.01M391.3 188.0h.01M389.1 189.5h.01M392.4 189.3h.01M392.4 193.1h.01M395.0 188.7h.01"/>
<path stroke="#7f7f7f" stroke-width="1.7" d="M323.7 209.3h.01M321.4 208.6h.01M327.6 208.0h.01M327.6 208.3h.01M323.4 210.9h.01M328.2 210.1h.01M328.6 211.5h.01M321.7 210.4h.01M326.8 206.9h.01M327.4 209.5h.01M329.1 211.1h.01M325.2 212.1h.01M326.1 209.4h.01M329.0 209.9h.01M327.5 212.4h.01M327.0 209.0h.01M323.2 209.3h.01M328.6 210.6h.01M330.3 210.1h.01M334.1 210.8h.01"/>
<path stroke="#8c564b" stroke-width="1.7" d="M353.9 213.8h.01M349.6 212.9h.01M354.4 212.5h.01M356.4 215.2h.01M357.5 213.8h.01M356.4 214.3h.01M357.7 214.2h.01M351.7 212.9h.01M353.1 212.7h.01M353.6 212.0h.01M354.0 214.0h.01M351.2 211.8h.01M358.7 215.1h.01M356.7 211.9h.01M355.1 213.3h.01M352.0 214.9h.01M358.1 212.4h.01M352.8 214.3h.01M353.3 215.6h.01M344.3 212.4h.01"/>
<path stroke="#1c74bc" stroke-width="1.7" d="M399.9 220.3h.01M389.8 221.2h.01M391.9 221.3h.01M394.6 222.4h.01M396.5 221.0h.01M396.8 218.8h.01M399.4 219.1h.01M390.4 221.0h.01M394.8 218.9h.01M394.9 220.0h.01M394.3 219.1h.01M392.0 221.5h.01M393.5 222.5h.01M395.6 218.0h.01M399.2 218.5h.01M392.0 219.8h.01M395.2 219.0h.01M399.4 222.1h.01M390.9 219.8h.01M392.8 219.5h.01M394.2 220.6h.01M394.8 219.8h.01"/>
<path stroke="#da2224" stroke-width="1.7" d="M370.3 248.0h.01M374.8 247.3h.01M377.2 246.7h.01M374.9 243.9h.01M368.9 246.0h.01M371.7 242.7h.01M373.1 247.2h.01M375.9 247.9h.01M377.9 244.6h.01M377.1 249.5h.01M373.2 248.6h.01M376.0 243.8h.01M376.0 247.2h.01M378.0 246.5h.01M375.7 249.4h.01M376.1 249.8h.01M380.4 246.8h.01M378.1 247.6h.01M379.7 247.2h.01M378.9 250.1h.01M374.6 249.0h.01M380.4 248.9h.01"/>
<path stroke="#da2224" stroke-width="1.7" d="M447.6 211.6h.01M449.2 213.4h.01M447.6 214.7h.01M453.5 212.8h.01M447.4 215.9h.01M454.0 211.9h.01M451.3 208.6h.01M444.5 210.5h.01M450.3 214.7h.01M442.8 210.4h.01M447.6 215.0h.01M450.4 208.4h.01M454.4 211.8h.01M453.7 214.6h.01M452.8 214.2h.01M440.9 211.7h.01M442.5 214.8h.01M447.4 215.0h.01M451.8 214.0h.01M450.0 210.3h.01M452.9 210.4h.01M440.9 213.7h.01"/>
<path stroke="#1c74bc" stroke-width="1.7" d="M488.6 206.5h.01M493.9 210.3h.01M495.0 204.0h.01M494.6 205.7h.01M497.0 210.1h.01M491.3 209.5h.01M500.8 209.6h.01M498.7 207.3h.01M499.6 207.9h.01M495.8 208.1h.01M488.7 208.6h.01M500.6 210.4h.01M498.0 204.9h.01M495.9 206.0h.01M493.5 207.4h.01M494.4 205.7h.01M493.9 207.4h.01M498.3 208.8h.01M498.0 204.5h.01M501.2 205.6h.01M490.4 205.4h.01M494.0 209.1h.01"/>
<path stroke="#e670c8" stroke-width="1.7" d="M441.3 233.2h.01M441.6 236.3h.01M429.6 231.1h.01M436.5 235.0h.01M426.9 231.5h.01M433.7 236.3h.01M431.6 236.3h.01M438.2 232.9h.01M428.8 232.0h.01M431.4 236.0h.01M442.3 236.7h.01M433.9 232.3h.01M441.8 234.1h.01M435.8 230.3h.01M442.0 234.0h.01M430.5 233.6h.01M434.6 236.2h.01M428.6 232.0h.01M441.6 234.4h.01M433.3 231.2h.01"/>
<path stroke="#2ca02c" stroke-width="1.7" d="M462.5 243.5h.01M458.0 246.8h.01M462.4 247.8h.01M450.4 240.1h.01M452.3 237.9h.01M459.0 242.0h.01M450.4 239.9h.01M449.3 238.3h.01M460.3 247.4h.01M448.3 241.2h.01M457.9 243.6h.01M453.5 238.5h.01M448.8 237.5h.01M457.1 244.5h.01M457.6 245.8h.01M457.1 244.7h.01M463.0 246.8h.01M451.2 241.8h.01M447.4 239.0h.01M453.5 245.4h.01M453.2 245.2h.01M449.9 244.0h.01"/>
<path stroke="#bcbd22" stroke-width="1.7" d="M479.6 243.9h.01M484.5 244.6h.01M483.4 248.8h.01M476.8 245.6h.01M481.3 245.6h.01M484.6 246.2h.01M484.8 245.6h.01M477.6 243.7h.01M480.2 245.7h.01M486.2 243.1h.01M483.3 243.1h.01M485.3 246.2h.01M479.3 246.6h.01M481.1 249.8h.01M482.7 242.5h.01M479.3 247.7h.01M482.0 245.7h.01M487.6 247.6h.01M484.0 243.3h.01M472.6 252.8h.01"/>
<path stroke="#1c74bc" stroke-width="1.7" d="M529.1 245.1h.01M524.1 246.7h.01M530.2 247.9h.01M528.6 246.2h.01M520.4 247.7h.01M524.1 246.1h.01M521.2 247.2h.01M526.7 247.6h.01M524.7 247.7h.01M523.6 247.2h.01M528.7 245.8h.01M521.3 247.7h.01M525.3 248.5h.01M522.0 247.9h.01M533.2 247.1h.01M525.7 247.1h.01M529.5 247.4h.01M526.3 246.7h.01M526.9 246.5h.01M527.9 245.9h.01M520.8 247.7h.01M514.6 250.8h.01"/>
<path stroke="#e670c8" stroke-width="1.7" d="M404.8 259.4h.01M404.5 252.8h.01M406.7 251.2h.01M404.8 251.8h.01M405.0 257.9h.01M408.9 256.3h.01M402.9 258.8h.01M408.8 258.9h.01M405.0 259.4h.01M406.9 257.4h.01M403.1 258.7h.01M404.8 252.4h.01M408.0 256.3h.01M401.7 257.3h.01M406.2 250.8h.01M409.2 254.1h.01M407.7 256.7h.01M403.5 252.2h.01M401.1 256.5h.01M432.4 261.3h.01"/>
<path stroke="#17becf" stroke-width="1.7" d="M462.3 257.2h.01M457.0 257.0h.01M464.0 261.5h.01M470.3 260.4h.01M465.2 259.9h.01M455.4 258.2h.01M459.5 257.4h.01M462.1 261.7h.01M456.0 256.4h.01M460.3 256.0h.01M459.0 259.5h.01M459.7 258.2h.01M455.6 257.0h.01M453.5 256.8h.01M462.0 262.1h.01M465.4 257.8h.01M460.4 255.8h.01M464.1 261.2h.01"/>
<path stroke="#17becf" stroke-width="1.7" d="M453.3 274.7h.01M455.6 273.4h.01M457.5 273.1h.01M463.7 269.5h.01M463.3 269.4h.01M463.7 270.9h.01M458.1 273.8h.01M458.2 267.0h.01M461.1 267.4h.01M459.4 268.1h.01M456.7 268.0h.01M452.4 273.6h.01M455.4 268.0h.01M458.6 266.7h.01M460.0 269.8h.01M461.2 270.1h.01M464.0 272.7h.01M456.2 271.6h.01M453.3 270.6h.01M456.8 275.9h.01M440.8 272.6h.01"/>
<path stroke="#2ca02c" stroke-width="1.7" d="M511.8 268.8h.01M516.3 266.8h.01M510.6 268.4h.01M517.3 266.6h.01M515.5 271.4h.01M511.7 268.5h.01M510.0 265.9h.01M513.8 270.6h.01M514.1 268.4h.01M514.8 268.1h.01M514.3 269.2h.01M511.6 266.8h.01M514.3 265.9h.01M518.4 267.5h.01M518.6 268.9h.01M518.1 268.0h.01M517.2 268.5h.01M513.2 268.3h.01M508.0 265.5h.01M508.8 268.3h.01M513.0 269.9h.01"/>
<path stroke="#ff7f0e" stroke-width="1.7" d="M415.4 270.8h.01M416.8 275.2h.01M413.8 275.0h.01M412.4 274.2h.01M415.7 271.3h.01M416.0 275.0h.01M414.5 271.9h.01M418.8 274.6h.01M419.9 274.9h.01M421.2 273.3h.01M422.0 273.4h.01M416.9 273.2h.01M421.0 274.2h.01M418.9 274.4h.01M416.9 272.6h.01M416.6 270.6h.01M413.7 274.6h.01M414.3 273.9h.01M417.2 275.6h.01M426.4 273.4h.01M425.3 274.0h.01M438.7 288.1h.01"/>
<path stroke="#7f7f7f" stroke-width="1.7" d="M367.2 277.3h.01M375.8 274.3h.01M373.9 278.3h.01M376.0 275.7h.01M372.3 276.1h.01M376.7 273.6h.01M369.7 275.3h.01M376.1 275.1h.01M371.6 277.9h.01M369.2 275.1h.01M370.1 278.5h.01M371.3 274.6h.01M374.3 277.9h.01M374.7 278.3h.01M375.1 275.2h.01M372.3 274.9h.01M368.0 277.8h.01M373.1 270.6h.01"/>
<path stroke="#bcbd22" stroke-width="1.7" d="M371.4 292.7h.01M372.8 292.8h.01M376.7 287.4h.01M374.8 292.6h.01M371.2 291.1h.01M370.5 292.1h.01M371.3 290.0h.01M377.9 288.7h.01M370.8 289.5h.01M378.4 290.3h.01M374.8 290.2h.01M375.0 295.0h.01M376.1 288.9h.01M379.5 292.1h.01M380.2 290.7h.01M377.2 287.0h.01M374.6 293.2h.01M374.7 292.9h.01M376.4 291.4h.01M385.3 289.6h.01M374.0 282.2h.01"/>
<path stroke="#9164c4" stroke-width="1.7" d="M441.2 284.0h.01M439.1 281.2h.01M446.7 283.7h.01M442.6 288.4h.01M442.6 288.6h.01M440.5 284.2h.01M438.0 286.2h.01M437.4 284.1h.01M445.8 284.6h.01M444.8 285.8h.01M446.0 287.0h.01M443.6 285.7h.01M435.6 280.3h.01M436.5 284.5h.01M437.3 281.4h.01M441.8 281.3h.01M441.8 284.6h.01M444.2 285.3h.01M444.4 284.9h.01M446.4 287.9h.01"/>
<path stroke="#9164c4" stroke-width="1.7" d="M412.9 294.9h.01M409.9 293.5h.01M411.1 294.7h.01M414.6 289.2h.01M417.7 289.2h.01M414.0 290.7h.01M415.2 290.2h.01M412.4 295.5h.01M412.3 295.5h.01M410.3 291.7h.01M407.4 294.2h.01M412.8 291.4h.01M411.5 294.8h.01M415.5 289.4h.01M407.3 295.7h.01M410.2 295.2h.01M408.9 295.5h.01M414.2 293.6h.01M411.8 294.7h.01M415.1 294.0h.01"/>
<path stroke="#ff7f0e" stroke-width="1.7" d="M481.7 293.5h.01M475.9 291.6h.01M481.6 290.2h.01M480.0 290.9h.01M473.7 291.5h.01M476.8 290.2h.01M480.4 289.6h.01M484.7 292.4h.01M479.0 292.5h.01M478.5 290.6h.01M477.4 293.3h.01M474.8 291.7h.01M483.6 293.1h.01M484.8 291.0h.01M475.1 291.6h.01M485.6 291.2h.01M482.0 293.0h.01M477.6 289.5h.01M475.1 291.8h.01M477.0 294.2h.01M468.2 291.4h.01"/>
<path stroke="#7f7f7f" stroke-width="1.7" d="M463.9 290.8h.01"/>
<path stroke="#1c74bc" stroke-width="1.6" d="M343.8 357.0h.01M343.3 356.8h.01M345.4 357.8h.01M344.0 355.4h.01M345.0 357.8h.01M346.0 356.4h.01M345.4 357.2h.01M343.7 357.5h.01M343.2 358.9h.01M345.1 356.7h.01M343.3 359.0h.01M345.6 356.8h.01M346.3 356.4h.01M344.4 359.1h.01M343.5 356.0h.01M342.9 357.9h.01M342.8 358.7h.01M342.9 356.5h.01M344.0 356.1h.01M343.3 356.9h.01M344.8 359.1h.01M345.9 358.7h.01M342.9 356.2h.01M344.9 358.1h.01M343.5 357.6h.01M342.4 357.6h.01"/>
<path stroke="#1c74bc" stroke-width="1.6" d="M394.3 344.3h.01M393.8 343.3h.01M393.3 343.3h.01M393.3 345.1h.01M393.2 344.1h.01M392.4 344.8h.01M396.9 345.0h.01M394.7 346.0h.01M394.6 345.3h.01M395.2 345.5h.01M396.6 346.0h.01M394.8 346.4h.01M393.1 346.1h.01M393.1 345.5h.01M392.2 344.3h.01M394.7 346.0h.01M395.3 345.8h.01M395.1 343.0h.01M393.5 344.3h.01M393.8 346.9h.01M399.9 346.2h.01M400.4 346.8h.01M400.3 347.7h.01"/>
<path stroke="#8c564b" stroke-width="1.6" d="M324.0 379.2h.01M322.6 379.2h.01M325.4 378.4h.01M325.2 377.5h.01M324.4 379.4h.01M324.1 378.6h.01M325.9 378.9h.01M325.6 378.2h.01M325.6 380.0h.01M325.6 378.4h.01M325.4 376.8h.01M325.4 377.4h.01M325.5 378.6h.01M323.4 379.6h.01M324.5 377.2h.01M323.6 377.2h.01M324.0 377.3h.01M327.1 377.9h.01M326.1 377.0h.01M323.9 380.2h.01M327.7 377.9h.01M327.3 378.6h.01M326.0 378.8h.01M324.7 380.4h.01M323.2 379.0h.01M325.4 377.5h.01"/>
<path stroke="#7f7f7f" stroke-width="1.6" d="M334.8 396.3h.01M332.1 396.9h.01M332.0 397.9h.01M334.5 395.3h.01M332.7 397.8h.01M332.6 397.0h.01M334.2 396.7h.01M332.7 395.5h.01M332.4 397.7h.01M333.5 397.9h.01M333.3 397.7h.01M334.0 398.2h.01M335.0 397.1h.01M331.5 397.0h.01M332.0 398.3h.01M331.8 397.7h.01M332.5 397.7h.01M333.1 394.8h.01M332.1 397.4h.01M333.7 398.5h.01M331.1 393.1h.01M331.0 393.9h.01M331.0 392.6h.01"/>
<path stroke="#e670c8" stroke-width="1.6" d="M437.1 349.8h.01M434.5 348.0h.01M438.8 346.7h.01M437.9 345.9h.01M436.7 349.1h.01M434.9 347.9h.01M435.7 346.2h.01M436.6 350.0h.01M434.6 346.6h.01M434.9 345.9h.01M437.4 349.2h.01M437.6 346.2h.01M436.2 348.5h.01M436.7 346.7h.01M436.1 346.8h.01M439.0 349.7h.01M438.7 346.0h.01M438.5 348.3h.01M434.6 345.5h.01M438.6 347.4h.01M436.9 347.3h.01M435.4 345.4h.01"/>
<path stroke="#da2224" stroke-width="1.6" d="M468.6 341.5h.01M470.2 343.5h.01M468.3 340.6h.01M471.8 342.8h.01M468.9 342.1h.01M468.2 343.2h.01M466.1 341.5h.01M467.7 343.6h.01M466.9 342.5h.01M468.5 339.9h.01M470.1 341.7h.01M469.6 342.9h.01M471.3 342.4h.01M471.0 340.2h.01M466.6 343.6h.01M467.0 340.5h.01M469.3 342.1h.01M468.7 342.8h.01M466.9 342.0h.01M470.9 342.6h.01M470.9 341.2h.01M469.3 340.4h.01M471.5 341.4h.01M465.0 341.5h.01M470.3 343.6h.01M471.0 342.3h.01"/>
<path stroke="#7f7f7f" stroke-width="1.6" d="M468.9 368.1h.01M467.5 367.8h.01M466.9 367.6h.01M466.4 365.4h.01M472.2 365.8h.01M470.4 367.5h.01M467.7 365.5h.01M468.1 366.9h.01M470.3 364.0h.01M467.4 365.9h.01M471.3 364.3h.01M469.7 364.0h.01M468.1 364.8h.01M469.2 365.6h.01M472.1 364.7h.01M466.7 365.9h.01M467.1 366.8h.01M468.7 366.1h.01M466.4 365.6h.01M469.9 365.6h.01M472.7 366.6h.01M470.1 365.2h.01M471.4 367.1h.01M469.4 368.0h.01"/>
<path stroke="#bcbd22" stroke-width="1.6" d="M439.8 371.0h.01M444.4 371.7h.01M441.1 371.3h.01M445.5 372.3h.01M443.3 370.9h.01M445.7 373.6h.01M444.3 374.9h.01M443.0 371.9h.01M443.3 374.8h.01M443.4 371.6h.01M440.8 373.1h.01M445.0 371.7h.01M439.1 371.0h.01M440.9 374.9h.01M443.2 372.4h.01M442.4 375.3h.01M445.5 372.1h.01M445.9 373.4h.01M444.3 372.6h.01M441.5 373.2h.01M441.7 372.8h.01M442.4 374.9h.01M440.7 373.1h.01M442.0 372.3h.01"/>
<path stroke="#e670c8" stroke-width="1.6" d="M447.5 369.7h.01M453.6 399.3h.01"/>
<path stroke="#9164c4" stroke-width="1.6" d="M418.5 386.2h.01M419.3 385.4h.01M421.6 385.4h.01M421.1 388.6h.01M422.3 388.4h.01M423.3 386.6h.01M419.5 388.1h.01M423.1 387.2h.01M421.2 386.5h.01M421.4 386.8h.01M422.3 388.1h.01M421.5 387.0h.01M421.6 388.8h.01M419.4 385.4h.01M419.6 387.6h.01M420.6 388.0h.01M421.3 386.8h.01M421.8 385.3h.01M425.9 390.6h.01M426.4 390.9h.01M425.7 390.6h.01M445.6 376.8h.01"/>
<path stroke="#2ca02c" stroke-width="1.6" d="M500.1 386.2h.01M500.8 386.5h.01M500.7 385.4h.01M501.7 388.6h.01M498.3 389.9h.01M499.3 387.2h.01M499.3 387.3h.01M498.7 389.0h.01M498.0 389.9h.01M495.9 386.8h.01M497.7 386.9h.01M499.0 386.4h.01M496.5 389.0h.01M495.7 387.3h.01M496.1 387.9h.01M496.0 387.4h.01M500.0 387.6h.01M499.3 389.6h.01M498.7 389.7h.01M501.0 389.1h.01M500.3 389.5h.01M497.1 385.4h.01M499.8 387.0h.01M501.1 385.3h.01M497.5 389.5h.01M501.3 386.8h.01M500.0 388.3h.01M496.2 387.7h.01M500.6 393.0h.01"/>
<path stroke="#1c74bc" stroke-width="1.6" d="M493.8 394.6h.01"/>
<path stroke="#ff7f0e" stroke-width="1.6" d="M444.2 401.6h.01M444.3 399.8h.01M444.4 401.5h.01M442.9 398.5h.01M446.0 401.9h.01M441.2 401.8h.01M440.8 399.8h.01M445.1 399.7h.01M447.1 402.9h.01M439.5 399.9h.01M446.3 402.6h.01M443.5 399.3h.01M440.3 398.9h.01M442.4 398.2h.01M440.5 398.9h.01M442.2 401.3h.01M445.0 400.7h.01M443.0 398.3h.01M442.4 402.0h.01M446.1 402.6h.01M445.9 401.2h.01M443.8 402.1h.01M457.3 394.3h.01"/>
<path stroke="#17becf" stroke-width="1.6" d="M469.9 398.8h.01M471.7 397.1h.01M472.2 395.8h.01M470.1 399.4h.01M472.9 398.2h.01M471.8 397.8h.01M474.9 396.9h.01M473.2 396.5h.01M469.5 396.7h.01M473.8 397.8h.01M466.4 398.7h.01M467.6 396.8h.01M474.7 396.4h.01M466.8 397.2h.01M470.5 398.2h.01M473.3 395.8h.01M471.6 396.8h.01M470.7 397.1h.01M470.6 397.3h.01M474.6 397.6h.01M470.7 399.1h.01M470.9 396.8h.01M471.1 399.2h.01M473.0 395.5h.01M459.0 396.5h.01M458.8 396.9h.01"/>
<path stroke="#17becf" stroke-width="1.6" d="M520.8 400.3h.01M519.3 399.8h.01M519.0 400.8h.01M519.0 400.2h.01M520.2 401.4h.01M521.8 399.9h.01M521.0 401.8h.01M519.1 400.1h.01M519.5 399.8h.01M521.0 398.2h.01M519.9 401.5h.01M518.6 401.6h.01M522.2 399.9h.01M521.9 398.5h.01M518.8 401.8h.01M522.1 399.0h.01M519.7 402.0h.01M520.2 401.8h.01M520.0 401.7h.01M519.0 401.4h.01M522.0 398.7h.01M518.8 398.6h.01M520.4 398.2h.01M520.1 399.5h.01M521.5 401.0h.01M520.4 399.2h.01M520.5 401.9h.01M522.0 399.0h.01"/>
<path stroke="#8c564b" stroke-width="1.6" d="M373.2 407.9h.01M372.7 407.8h.01M373.9 408.4h.01M372.8 410.1h.01M370.8 409.7h.01M371.9 408.2h.01M373.0 409.3h.01M373.1 408.2h.01M374.2 408.3h.01M370.5 410.3h.01M375.5 407.4h.01M373.4 410.1h.01M374.4 410.1h.01M371.9 408.6h.01M370.9 408.5h.01M373.7 409.7h.01M372.4 409.8h.01M372.2 406.7h.01M371.9 406.8h.01M371.4 407.8h.01M373.8 409.4h.01M374.0 410.3h.01M371.8 409.1h.01M373.6 409.8h.01M370.5 409.5h.01M373.8 409.0h.01M370.6 409.6h.01M373.7 409.4h.01"/>
<path stroke="#da2224" stroke-width="1.6" d="M392.4 415.6h.01M393.1 416.1h.01M395.1 414.9h.01M394.5 416.3h.01M391.9 416.2h.01M391.1 416.9h.01M396.4 415.0h.01M394.4 415.5h.01M391.2 416.3h.01M392.9 416.4h.01M393.2 418.7h.01M393.1 415.5h.01M395.5 414.9h.01M393.7 416.5h.01M392.4 416.3h.01M391.2 417.7h.01M396.7 416.6h.01M394.9 418.1h.01M396.3 415.6h.01M392.3 418.3h.01M399.9 416.9h.01"/>
<path stroke="#9164c4" stroke-width="1.6" d="M458.2 417.6h.01M454.3 418.1h.01M457.4 416.5h.01M453.4 417.4h.01M460.1 417.7h.01M459.2 416.0h.01M457.0 416.8h.01M460.4 414.1h.01M457.8 417.9h.01M454.4 416.7h.01M461.6 416.0h.01M457.2 418.7h.01M460.2 417.4h.01M455.9 417.8h.01M457.2 416.7h.01M458.3 417.8h.01M457.9 414.3h.01M459.1 416.6h.01M456.0 417.1h.01M455.9 416.7h.01M455.4 417.0h.01M460.1 417.0h.01"/>
<path stroke="#ff7f0e" stroke-width="1.6" d="M483.1 419.8h.01M485.3 421.2h.01M483.9 421.8h.01M484.9 421.9h.01M487.3 421.4h.01M484.1 421.4h.01M483.4 420.6h.01M486.4 420.1h.01M483.9 420.3h.01M487.6 420.6h.01M489.5 424.2h.01M486.3 421.4h.01M485.6 419.6h.01M484.4 419.3h.01M485.5 420.3h.01M489.7 423.3h.01M486.1 423.1h.01M484.0 421.6h.01M485.5 420.1h.01M486.1 422.1h.01M483.0 419.2h.01M485.9 420.0h.01"/>
<path stroke="#e670c8" stroke-width="1.6" d="M431.0 429.8h.01M431.4 429.5h.01M429.3 429.0h.01M430.0 428.8h.01M428.7 430.2h.01M428.0 427.8h.01M431.9 429.2h.01M430.3 427.1h.01M433.3 429.9h.01M427.5 426.9h.01M429.9 427.0h.01M432.6 429.9h.01M430.7 431.3h.01M430.2 428.1h.01M429.6 431.0h.01M428.8 429.9h.01M433.4 429.7h.01M427.7 429.4h.01M428.6 430.0h.01M428.3 426.6h.01M429.3 430.0h.01M431.0 431.7h.01M429.6 430.8h.01M429.9 429.7h.01"/>
<path stroke="#2ca02c" stroke-width="1.6" d="M446.2 441.0h.01M446.2 443.9h.01M445.4 438.2h.01M446.1 440.1h.01M446.3 441.2h.01M443.0 441.7h.01M443.1 443.1h.01M445.3 442.9h.01M445.8 438.8h.01M446.5 443.7h.01M443.6 440.4h.01M442.9 440.9h.01M443.7 442.4h.01M446.1 443.3h.01M446.7 440.0h.01M443.4 439.5h.01M444.9 441.2h.01M443.2 441.0h.01M444.3 440.8h.01M443.5 439.0h.01M446.3 442.7h.01M446.2 438.9h.01M446.3 440.1h.01M444.8 441.8h.01M446.4 439.0h.01M446.1 441.2h.01M443.1 436.4h.01M442.9 436.4h.01"/>
<path stroke="#bcbd22" stroke-width="1.6" d="M477.5 444.6h.01M476.8 443.2h.01M473.6 445.1h.01M476.8 444.7h.01M476.4 442.2h.01M475.6 442.6h.01M474.0 443.1h.01M472.5 444.6h.01M474.2 444.8h.01M471.9 444.0h.01M472.4 445.4h.01M476.7 443.2h.01M474.8 443.9h.01M474.1 442.0h.01M475.4 444.2h.01M476.3 442.6h.01M474.8 445.6h.01M475.2 445.1h.01M477.0 445.2h.01M475.1 443.9h.01M475.4 443.9h.01M473.4 446.0h.01M473.3 445.7h.01M474.8 444.2h.01M477.2 444.2h.01M471.6 443.9h.01M451.5 439.7h.01"/>
<path stroke="#1c74bc" stroke-width="1.6" d="M531.5 421.6h.01M534.9 422.5h.01M533.9 421.9h.01M533.8 424.8h.01M531.3 424.5h.01M532.9 424.4h.01M533.8 422.1h.01M533.2 424.4h.01M533.2 423.7h.01M532.2 422.6h.01M532.6 421.6h.01M534.9 423.2h.01M532.1 423.3h.01M534.0 424.3h.01M531.4 424.2h.01M530.8 422.0h.01M530.1 423.4h.01M531.3 424.0h.01M533.1 422.5h.01M530.1 424.0h.01M534.5 424.6h.01M533.7 424.5h.01M532.8 423.8h.01M534.8 422.6h.01M531.4 423.0h.01M532.0 423.8h.01"/>
</g>
<g stroke="#8a8a8a" stroke-width="0.4" fill="#555" font-size="2.5" font-weight="bold" font-family="'Liberation Sans', 'DejaVu Sans', sans-serif"><line x1="35.2" y1="35.5" x2="36.5" y2="35.5"/><text stroke="none" x="34.8" y="36.3" text-anchor="end">60</text><line x1="35.2" y1="54.0" x2="36.5" y2="54.0"/><text stroke="none" x="34.8" y="54.8" text-anchor="end">40</text><line x1="35.2" y1="72.2" x2="36.5" y2="72.2"/><text stroke="none" x="34.8" y="73.0" text-anchor="end">20</text><line x1="35.2" y1="90.3" x2="36.5" y2="90.3"/><text stroke="none" x="34.8" y="91.1" text-anchor="end">0</text><line x1="35.2" y1="108.8" x2="36.5" y2="108.8"/><text stroke="none" x="34.8" y="109.6" text-anchor="end">-20</text><line x1="35.2" y1="127.0" x2="36.5" y2="127.0"/><text stroke="none" x="34.8" y="127.8" text-anchor="end">-40</text><line x1="35.2" y1="144.7" x2="36.5" y2="144.7"/><text stroke="none" x="34.8" y="145.5" text-anchor="end">-60</text><line x1="42.0" y1="147.8" x2="42.0" y2="149.1"/><text stroke="none" x="42.0" y="151.3" text-anchor="middle">-80</text><line x1="69.5" y1="147.8" x2="69.5" y2="149.1"/><text stroke="none" x="69.5" y="151.3" text-anchor="middle">-60</text><line x1="97.0" y1="147.8" x2="97.0" y2="149.1"/><text stroke="none" x="97.0" y="151.3" text-anchor="middle">-40</text><line x1="124.5" y1="147.8" x2="124.5" y2="149.1"/><text stroke="none" x="124.5" y="151.3" text-anchor="middle">-20</text><line x1="152.0" y1="147.8" x2="152.0" y2="149.1"/><text stroke="none" x="152.0" y="151.3" text-anchor="middle">0</text><line x1="179.5" y1="147.8" x2="179.5" y2="149.1"/><text stroke="none" x="179.5" y="151.3" text-anchor="middle">20</text><line x1="207.0" y1="147.8" x2="207.0" y2="149.1"/><text stroke="none" x="207.0" y="151.3" text-anchor="middle">40</text><line x1="234.5" y1="147.8" x2="234.5" y2="149.1"/><text stroke="none" x="234.5" y="151.3" text-anchor="middle">60</text><line x1="262.0" y1="147.8" x2="262.0" y2="149.1"/><text stroke="none" x="262.0" y="151.3" text-anchor="middle">80</text></g>
<g stroke="#8a8a8a" stroke-width="0.4" fill="#555" font-size="2.5" font-weight="bold" font-family="'Liberation Sans', 'DejaVu Sans', sans-serif"><line x1="35.2" y1="189.5" x2="36.5" y2="189.5"/><text stroke="none" x="34.8" y="190.3" text-anchor="end">40</text><line x1="35.2" y1="212.3" x2="36.5" y2="212.3"/><text stroke="none" x="34.8" y="213.1" text-anchor="end">20</text><line x1="35.2" y1="235.0" x2="36.5" y2="235.0"/><text stroke="none" x="34.8" y="235.8" text-anchor="end">0</text><line x1="35.2" y1="258.0" x2="36.5" y2="258.0"/><text stroke="none" x="34.8" y="258.8" text-anchor="end">-20</text><line x1="35.2" y1="281.0" x2="36.5" y2="281.0"/><text stroke="none" x="34.8" y="281.8" text-anchor="end">-40</text><line x1="63.0" y1="299.0" x2="63.0" y2="300.3"/><text stroke="none" x="63.0" y="302.5" text-anchor="middle">-40</text><line x1="105.5" y1="299.0" x2="105.5" y2="300.3"/><text stroke="none" x="105.5" y="302.5" text-anchor="middle">-20</text><line x1="148.5" y1="299.0" x2="148.5" y2="300.3"/><text stroke="none" x="148.5" y="302.5" text-anchor="middle">0</text><line x1="191.0" y1="299.0" x2="191.0" y2="300.3"/><text stroke="none" x="191.0" y="302.5" text-anchor="middle">20</text><line x1="234.0" y1="299.0" x2="234.0" y2="300.3"/><text stroke="none" x="234.0" y="302.5" text-anchor="middle">40</text></g>
<g stroke="#8a8a8a" stroke-width="0.4" fill="#555" font-size="2.5" font-weight="bold" font-family="'Liberation Sans', 'DejaVu Sans', sans-serif"><line x1="35.2" y1="349.2" x2="36.5" y2="349.2"/><text stroke="none" x="34.8" y="350.0" text-anchor="end">40</text><line x1="35.2" y1="371.2" x2="36.5" y2="371.2"/><text stroke="none" x="34.8" y="372.0" text-anchor="end">20</text><line x1="35.2" y1="393.0" x2="36.5" y2="393.0"/><text stroke="none" x="34.8" y="393.8" text-anchor="end">0</text><line x1="35.2" y1="414.3" x2="36.5" y2="414.3"/><text stroke="none" x="34.8" y="415.1" text-anchor="end">-20</text><line x1="35.2" y1="436.0" x2="36.5" y2="436.0"/><text stroke="none" x="34.8" y="436.8" text-anchor="end">-40</text><line x1="68.5" y1="451.4" x2="68.5" y2="452.7"/><text stroke="none" x="68.5" y="454.9" text-anchor="middle">-40</text><line x1="114.0" y1="451.4" x2="114.0" y2="452.7"/><text stroke="none" x="114.0" y="454.9" text-anchor="middle">-20</text><line x1="161.0" y1="451.4" x2="161.0" y2="452.7"/><text stroke="none" x="161.0" y="454.9" text-anchor="middle">0</text><line x1="206.5" y1="451.4" x2="206.5" y2="452.7"/><text stroke="none" x="206.5" y="454.9" text-anchor="middle">20</text><line x1="252.5" y1="451.4" x2="252.5" y2="452.7"/><text stroke="none" x="252.5" y="454.9" text-anchor="middle">40</text></g>
<g stroke="#8a8a8a" stroke-width="0.4" fill="#555" font-size="2.5" font-weight="bold" font-family="'Liberation Sans', 'DejaVu Sans', sans-serif"><line x1="311.2" y1="39.7" x2="312.5" y2="39.7"/><text stroke="none" x="310.8" y="40.5" text-anchor="end">20</text><line x1="311.2" y1="61.5" x2="312.5" y2="61.5"/><text stroke="none" x="310.8" y="62.3" text-anchor="end">10</text><line x1="311.2" y1="83.7" x2="312.5" y2="83.7"/><text stroke="none" x="310.8" y="84.5" text-anchor="end">0</text><line x1="311.2" y1="105.4" x2="312.5" y2="105.4"/><text stroke="none" x="310.8" y="106.2" text-anchor="end">-10</text><line x1="311.2" y1="127.2" x2="312.5" y2="127.2"/><text stroke="none" x="310.8" y="128.0" text-anchor="end">-20</text><line x1="346.7" y1="147.7" x2="346.7" y2="149.0"/><text stroke="none" x="346.7" y="151.2" text-anchor="middle">-20</text><line x1="390.7" y1="147.7" x2="390.7" y2="149.0"/><text stroke="none" x="390.7" y="151.2" text-anchor="middle">-10</text><line x1="436.6" y1="147.7" x2="436.6" y2="149.0"/><text stroke="none" x="436.6" y="151.2" text-anchor="middle">0</text><line x1="481.5" y1="147.7" x2="481.5" y2="149.0"/><text stroke="none" x="481.5" y="151.2" text-anchor="middle">10</text><line x1="527.4" y1="147.7" x2="527.4" y2="149.0"/><text stroke="none" x="527.4" y="151.2" text-anchor="middle">20</text></g>
<g stroke="#8a8a8a" stroke-width="0.4" fill="#555" font-size="2.5" font-weight="bold" font-family="'Liberation Sans', 'DejaVu Sans', sans-serif"><line x1="311.2" y1="197.7" x2="312.5" y2="197.7"/><text stroke="none" x="310.8" y="198.5" text-anchor="end">20</text><line x1="311.2" y1="223.7" x2="312.5" y2="223.7"/><text stroke="none" x="310.8" y="224.5" text-anchor="end">10</text><line x1="311.2" y1="249.7" x2="312.5" y2="249.7"/><text stroke="none" x="310.8" y="250.5" text-anchor="end">0</text><line x1="311.2" y1="275.2" x2="312.5" y2="275.2"/><text stroke="none" x="310.8" y="276.0" text-anchor="end">-10</text><line x1="329.2" y1="299.0" x2="329.2" y2="300.3"/><text stroke="none" x="329.2" y="302.5" text-anchor="middle">-20</text><line x1="376.5" y1="299.0" x2="376.5" y2="300.3"/><text stroke="none" x="376.5" y="302.5" text-anchor="middle">-10</text><line x1="424.3" y1="299.0" x2="424.3" y2="300.3"/><text stroke="none" x="424.3" y="302.5" text-anchor="middle">0</text><line x1="472.0" y1="299.0" x2="472.0" y2="300.3"/><text stroke="none" x="472.0" y="302.5" text-anchor="middle">10</text><line x1="519.3" y1="299.0" x2="519.3" y2="300.3"/><text stroke="none" x="519.3" y="302.5" text-anchor="middle">20</text></g>
<g stroke="#8a8a8a" stroke-width="0.4" fill="#555" font-size="2.5" font-weight="bold" font-family="'Liberation Sans', 'DejaVu Sans', sans-serif"><line x1="311.2" y1="344.9" x2="312.5" y2="344.9"/><text stroke="none" x="310.8" y="345.7" text-anchor="end">30</text><line x1="311.2" y1="361.9" x2="312.5" y2="361.9"/><text stroke="none" x="310.8" y="362.7" text-anchor="end">20</text><line x1="311.2" y1="378.9" x2="312.5" y2="378.9"/><text stroke="none" x="310.8" y="379.7" text-anchor="end">10</text><line x1="311.2" y1="396.0" x2="312.5" y2="396.0"/><text stroke="none" x="310.8" y="396.8" text-anchor="end">0</text><line x1="311.2" y1="413.0" x2="312.5" y2="413.0"/><text stroke="none" x="310.8" y="413.8" text-anchor="end">-10</text><line x1="311.2" y1="430.0" x2="312.5" y2="430.0"/><text stroke="none" x="310.8" y="430.8" text-anchor="end">-20</text><line x1="311.2" y1="447.0" x2="312.5" y2="447.0"/><text stroke="none" x="310.8" y="447.8" text-anchor="end">-30</text><line x1="348.6" y1="451.3" x2="348.6" y2="452.6"/><text stroke="none" x="348.6" y="454.8" text-anchor="middle">-20</text><line x1="393.0" y1="451.3" x2="393.0" y2="452.6"/><text stroke="none" x="393.0" y="454.8" text-anchor="middle">-10</text><line x1="438.0" y1="451.3" x2="438.0" y2="452.6"/><text stroke="none" x="438.0" y="454.8" text-anchor="middle">0</text><line x1="483.0" y1="451.3" x2="483.0" y2="452.6"/><text stroke="none" x="483.0" y="454.8" text-anchor="middle">10</text><line x1="528.3" y1="451.3" x2="528.3" y2="452.6"/><text stroke="none" x="528.3" y="454.8" text-anchor="middle">20</text></g>
<g fill="#9a9a9a" font-size="2.9" font-family="'Liberation Sans', sans-serif"><circle cx="262.9" cy="34.6" r="0.8" fill="#1c74bc"/><text x="266.8" y="35.5">1</text><circle cx="262.9" cy="37.9" r="0.8" fill="#ff7f0e"/><text x="266.8" y="38.8">2</text><circle cx="262.9" cy="41.2" r="0.8" fill="#2ca02c"/><text x="266.8" y="42.1">3</text><circle cx="262.9" cy="44.5" r="0.8" fill="#da2224"/><text x="266.8" y="45.4">4</text><circle cx="262.9" cy="47.8" r="0.8" fill="#9164c4"/><text x="266.8" y="48.7">5</text><circle cx="262.9" cy="51.1" r="0.8" fill="#8c564b"/><text x="266.8" y="52.0">6</text><circle cx="262.9" cy="54.4" r="0.8" fill="#e670c8"/><text x="266.8" y="55.3">7</text></g>
<g fill="#9a9a9a" font-size="2.9" font-family="'Liberation Sans', sans-serif"><circle cx="262.9" cy="186.0" r="0.8" fill="#1c74bc"/><text x="266.8" y="186.9">1</text><circle cx="262.9" cy="189.3" r="0.8" fill="#ff7f0e"/><text x="266.8" y="190.2">2</text><circle cx="262.9" cy="192.7" r="0.8" fill="#2ca02c"/><text x="266.8" y="193.6">3</text><circle cx="262.9" cy="196.1" r="0.8" fill="#da2224"/><text x="266.8" y="197.0">4</text><circle cx="262.9" cy="199.4" r="0.8" fill="#9164c4"/><text x="266.8" y="200.3">5</text><circle cx="262.9" cy="202.8" r="0.8" fill="#8c564b"/><text x="266.8" y="203.7">6</text><circle cx="262.9" cy="206.1" r="0.8" fill="#e670c8"/><text x="266.8" y="207.0">7</text></g>
<g fill="#9a9a9a" font-size="2.9" font-family="'Liberation Sans', sans-serif"><circle cx="262.9" cy="338.2" r="0.8" fill="#1c74bc"/><text x="266.8" y="339.1">1</text><circle cx="262.9" cy="341.5" r="0.8" fill="#ff7f0e"/><text x="266.8" y="342.4">2</text><circle cx="262.9" cy="344.8" r="0.8" fill="#2ca02c"/><text x="266.8" y="345.7">3</text><circle cx="262.9" cy="348.1" r="0.8" fill="#da2224"/><text x="266.8" y="349.0">4</text><circle cx="262.9" cy="351.5" r="0.8" fill="#9164c4"/><text x="266.8" y="352.4">5</text><circle cx="262.9" cy="354.8" r="0.8" fill="#8c564b"/><text x="266.8" y="355.7">6</text><circle cx="262.9" cy="358.1" r="0.8" fill="#e670c8"/><text x="266.8" y="359.0">7</text></g>
<g fill="#9a9a9a" font-size="2.9" font-family="'Liberation Sans', sans-serif"><circle cx="537.3" cy="34.0" r="0.8" fill="#1c74bc"/><text x="541.2" y="34.9">1</text><circle cx="537.3" cy="37.3" r="0.8" fill="#ff7f0e"/><text x="541.2" y="38.2">2</text><circle cx="537.3" cy="40.6" r="0.8" fill="#2ca02c"/><text x="541.2" y="41.5">3</text><circle cx="537.3" cy="43.9" r="0.8" fill="#da2224"/><text x="541.2" y="44.8">4</text><circle cx="537.3" cy="47.2" r="0.8" fill="#9164c4"/><text x="541.2" y="48.1">5</text><circle cx="537.3" cy="50.5" r="0.8" fill="#8c564b"/><text x="541.2" y="51.4">6</text><circle cx="537.3" cy="53.9" r="0.8" fill="#e670c8"/><text x="541.2" y="54.8">7</text><circle cx="537.3" cy="57.2" r="0.8" fill="#7f7f7f"/><text x="541.2" y="58.1">8</text><circle cx="537.3" cy="60.5" r="0.8" fill="#bcbd22"/><text x="541.2" y="61.4">9</text><circle cx="537.3" cy="63.8" r="0.8" fill="#17becf"/><text x="541.2" y="64.7">10</text><circle cx="537.3" cy="67.1" r="0.8" fill="#1c74bc"/><text x="541.2" y="68.0">11</text><circle cx="537.3" cy="70.4" r="0.8" fill="#ff7f0e"/><text x="541.2" y="71.3">12</text><circle cx="537.3" cy="73.7" r="0.8" fill="#2ca02c"/><text x="541.2" y="74.6">13</text><circle cx="537.3" cy="77.0" r="0.8" fill="#da2224"/><text x="541.2" y="77.9">14</text><circle cx="537.3" cy="80.3" r="0.8" fill="#9164c4"/><text x="541.2" y="81.2">15</text><circle cx="537.3" cy="83.7" r="0.8" fill="#8c564b"/><text x="541.2" y="84.6">16</text><circle cx="537.3" cy="87.0" r="0.8" fill="#e670c8"/><text x="541.2" y="87.9">17</text><circle cx="537.3" cy="90.3" r="0.8" fill="#7f7f7f"/><text x="541.2" y="91.2">18</text><circle cx="537.3" cy="93.6" r="0.8" fill="#bcbd22"/><text x="541.2" y="94.5">19</text><circle cx="537.3" cy="96.9" r="0.8" fill="#17becf"/><text x="541.2" y="97.8">20</text><circle cx="537.3" cy="100.2" r="0.8" fill="#1c74bc"/><text x="541.2" y="101.1">21</text></g>
<g fill="#9a9a9a" font-size="2.9" font-family="'Liberation Sans', sans-serif"><circle cx="537.3" cy="185.8" r="0.8" fill="#1c74bc"/><text x="541.2" y="186.7">1</text><circle cx="537.3" cy="189.1" r="0.8" fill="#ff7f0e"/><text x="541.2" y="190.0">2</text><circle cx="537.3" cy="192.4" r="0.8" fill="#2ca02c"/><text x="541.2" y="193.3">3</text><circle cx="537.3" cy="195.7" r="0.8" fill="#da2224"/><text x="541.2" y="196.6">4</text><circle cx="537.3" cy="199.0" r="0.8" fill="#9164c4"/><text x="541.2" y="199.9">5</text><circle cx="537.3" cy="202.4" r="0.8" fill="#8c564b"/><text x="541.2" y="203.3">6</text><circle cx="537.3" cy="205.7" r="0.8" fill="#e670c8"/><text x="541.2" y="206.6">7</text><circle cx="537.3" cy="209.0" r="0.8" fill="#7f7f7f"/><text x="541.2" y="209.9">8</text><circle cx="537.3" cy="212.3" r="0.8" fill="#bcbd22"/><text x="541.2" y="213.2">9</text><circle cx="537.3" cy="215.6" r="0.8" fill="#17becf"/><text x="541.2" y="216.5">10</text><circle cx="537.3" cy="218.9" r="0.8" fill="#1c74bc"/><text x="541.2" y="219.8">11</text><circle cx="537.3" cy="222.2" r="0.8" fill="#ff7f0e"/><text x="541.2" y="223.1">12</text><circle cx="537.3" cy="225.5" r="0.8" fill="#2ca02c"/><text x="541.2" y="226.4">13</text><circle cx="537.3" cy="228.8" r="0.8" fill="#da2224"/><text x="541.2" y="229.7">14</text><circle cx="537.3" cy="232.1" r="0.8" fill="#9164c4"/><text x="541.2" y="233.0">15</text><circle cx="537.3" cy="235.4" r="0.8" fill="#8c564b"/><text x="541.2" y="236.3">16</text><circle cx="537.3" cy="238.8" r="0.8" fill="#e670c8"/><text x="541.2" y="239.7">17</text><circle cx="537.3" cy="242.1" r="0.8" fill="#7f7f7f"/><text x="541.2" y="243.0">18</text><circle cx="537.3" cy="245.4" r="0.8" fill="#bcbd22"/><text x="541.2" y="246.3">19</text><circle cx="537.3" cy="248.7" r="0.8" fill="#17becf"/><text x="541.2" y="249.6">20</text><circle cx="537.3" cy="252.0" r="0.8" fill="#1c74bc"/><text x="541.2" y="252.9">21</text></g>
<g fill="#9a9a9a" font-size="2.9" font-family="'Liberation Sans', sans-serif"><circle cx="537.3" cy="338.0" r="0.8" fill="#1c74bc"/><text x="541.2" y="338.9">1</text><circle cx="537.3" cy="341.3" r="0.8" fill="#ff7f0e"/><text x="541.2" y="342.2">2</text><circle cx="537.3" cy="344.6" r="0.8" fill="#2ca02c"/><text x="541.2" y="345.5">3</text><circle cx="537.3" cy="347.9" r="0.8" fill="#da2224"/><text x="541.2" y="348.8">4</text><circle cx="537.3" cy="351.2" r="0.8" fill="#9164c4"/><text x="541.2" y="352.1">5</text><circle cx="537.3" cy="354.6" r="0.8" fill="#8c564b"/><text x="541.2" y="355.4">6</text><circle cx="537.3" cy="357.9" r="0.8" fill="#e670c8"/><text x="541.2" y="358.8">7</text><circle cx="537.3" cy="361.2" r="0.8" fill="#7f7f7f"/><text x="541.2" y="362.1">8</text><circle cx="537.3" cy="364.5" r="0.8" fill="#bcbd22"/><text x="541.2" y="365.4">9</text><circle cx="537.3" cy="367.8" r="0.8" fill="#17becf"/><text x="541.2" y="368.7">10</text><circle cx="537.3" cy="371.1" r="0.8" fill="#1c74bc"/><text x="541.2" y="372.0">11</text><circle cx="537.3" cy="374.4" r="0.8" fill="#ff7f0e"/><text x="541.2" y="375.3">12</text><circle cx="537.3" cy="377.7" r="0.8" fill="#2ca02c"/><text x="541.2" y="378.6">13</text><circle cx="537.3" cy="381.0" r="0.8" fill="#da2224"/><text x="541.2" y="381.9">14</text><circle cx="537.3" cy="384.3" r="0.8" fill="#9164c4"/><text x="541.2" y="385.2">15</text><circle cx="537.3" cy="387.6" r="0.8" fill="#8c564b"/><text x="541.2" y="388.5">16</text><circle cx="537.3" cy="391.0" r="0.8" fill="#e670c8"/><text x="541.2" y="391.9">17</text><circle cx="537.3" cy="394.3" r="0.8" fill="#7f7f7f"/><text x="541.2" y="395.2">18</text><circle cx="537.3" cy="397.6" r="0.8" fill="#bcbd22"/><text x="541.2" y="398.5">19</text><circle cx="537.3" cy="400.9" r="0.8" fill="#17becf"/><text x="541.2" y="401.8">20</text><circle cx="537.3" cy="404.2" r="0.8" fill="#1c74bc"/><text x="541.2" y="405.1">21</text></g>
<ellipse cx="85.9" cy="165.9" rx="4.8" ry="2.4" fill="#e670c8"/><ellipse cx="106.9" cy="165.9" rx="4.8" ry="2.4" fill="#8c564b"/><ellipse cx="127.4" cy="165.9" rx="4.8" ry="2.4" fill="#9164c4"/><ellipse cx="148.0" cy="165.9" rx="4.8" ry="2.4" fill="#da2224"/><ellipse cx="168.5" cy="165.9" rx="4.8" ry="2.4" fill="#2ca02c"/><ellipse cx="189.5" cy="165.9" rx="4.8" ry="2.4" fill="#ff7f0e"/><ellipse cx="210.0" cy="165.9" rx="4.8" ry="2.4" fill="#1c74bc"/><text transform="translate(86.8 178.8) rotate(90) scale(0.6 0.97)" text-anchor="middle" font-size="12" fill="#111" stroke="#111" stroke-width="0.3" font-family="'Liberation Sans', sans-serif">7</text><text transform="translate(104.8 178.8) rotate(90) scale(0.6 0.97)" text-anchor="middle" font-size="12" fill="#111" stroke="#111" stroke-width="0.3" font-family="'Liberation Sans', sans-serif">6</text><text transform="translate(122.8 178.8) rotate(90) scale(0.6 0.97)" text-anchor="middle" font-size="12" fill="#111" stroke="#111" stroke-width="0.3" font-family="'Liberation Sans', sans-serif">5</text><text transform="translate(144.8 178.8) rotate(90) scale(0.6 0.97)" text-anchor="middle" font-size="12" fill="#111" stroke="#111" stroke-width="0.3" font-family="'Liberation Sans', sans-serif">4</text><text transform="translate(165.5 178.8) rotate(90) scale(0.6 0.97)" text-anchor="middle" font-size="12" fill="#111" stroke="#111" stroke-width="0.3" font-family="'Liberation Sans', sans-serif">3</text><text transform="translate(184.8 178.8) rotate(90) scale(0.6 0.97)" text-anchor="middle" font-size="12" fill="#111" stroke="#111" stroke-width="0.3" font-family="'Liberation Sans', sans-serif">2</text><text transform="translate(205.4 178.8) rotate(90) scale(0.6 0.97)" text-anchor="middle" font-size="12" fill="#111" stroke="#111" stroke-width="0.3" font-family="'Liberation Sans', sans-serif">1</text>
<ellipse cx="82.6" cy="315.0" rx="4.8" ry="2.4" fill="#e670c8"/><ellipse cx="103.6" cy="315.0" rx="4.8" ry="2.4" fill="#8c564b"/><ellipse cx="124.0" cy="315.0" rx="4.8" ry="2.4" fill="#9164c4"/><ellipse cx="145.0" cy="315.0" rx="4.8" ry="2.4" fill="#da2224"/><ellipse cx="165.8" cy="315.0" rx="4.8" ry="2.4" fill="#2ca02c"/><ellipse cx="186.3" cy="315.0" rx="4.8" ry="2.4" fill="#ff7f0e"/><ellipse cx="206.7" cy="315.0" rx="4.8" ry="2.4" fill="#1c74bc"/><text transform="translate(81.8 328.0) rotate(90) scale(0.6 0.97)" text-anchor="middle" font-size="12" fill="#111" stroke="#111" stroke-width="0.3" font-family="'Liberation Sans', sans-serif">7</text><text transform="translate(98.8 328.0) rotate(90) scale(0.6 0.97)" text-anchor="middle" font-size="12" fill="#111" stroke="#111" stroke-width="0.3" font-family="'Liberation Sans', sans-serif">6</text><text transform="translate(120.8 328.0) rotate(90) scale(0.6 0.97)" text-anchor="middle" font-size="12" fill="#111" stroke="#111" stroke-width="0.3" font-family="'Liberation Sans', sans-serif">5</text><text transform="translate(142.3 328.0) rotate(90) scale(0.6 0.97)" text-anchor="middle" font-size="12" fill="#111" stroke="#111" stroke-width="0.3" font-family="'Liberation Sans', sans-serif">4</text><text transform="translate(161.8 328.0) rotate(90) scale(0.6 0.97)" text-anchor="middle" font-size="12" fill="#111" stroke="#111" stroke-width="0.3" font-family="'Liberation Sans', sans-serif">3</text><text transform="translate(182.8 328.0) rotate(90) scale(0.6 0.97)" text-anchor="middle" font-size="12" fill="#111" stroke="#111" stroke-width="0.3" font-family="'Liberation Sans', sans-serif">2</text><text transform="translate(204.4 328.0) rotate(90) scale(0.6 0.97)" text-anchor="middle" font-size="12" fill="#111" stroke="#111" stroke-width="0.3" font-family="'Liberation Sans', sans-serif">1</text>
<ellipse cx="82.6" cy="464.2" rx="4.8" ry="2.4" fill="#e670c8"/><ellipse cx="103.6" cy="464.2" rx="4.8" ry="2.4" fill="#8c564b"/><ellipse cx="124.0" cy="464.2" rx="4.8" ry="2.4" fill="#9164c4"/><ellipse cx="145.0" cy="464.2" rx="4.8" ry="2.4" fill="#da2224"/><ellipse cx="165.8" cy="464.2" rx="4.8" ry="2.4" fill="#2ca02c"/><ellipse cx="186.3" cy="464.2" rx="4.8" ry="2.4" fill="#ff7f0e"/><ellipse cx="206.7" cy="464.2" rx="4.8" ry="2.4" fill="#1c74bc"/><text transform="translate(81.8 477.5) rotate(90) scale(0.6 0.97)" text-anchor="middle" font-size="12" fill="#111" stroke="#111" stroke-width="0.3" font-family="'Liberation Sans', sans-serif">7</text><text transform="translate(98.8 477.5) rotate(90) scale(0.6 0.97)" text-anchor="middle" font-size="12" fill="#111" stroke="#111" stroke-width="0.3" font-family="'Liberation Sans', sans-serif">6</text><text transform="translate(120.8 477.5) rotate(90) scale(0.6 0.97)" text-anchor="middle" font-size="12" fill="#111" stroke="#111" stroke-width="0.3" font-family="'Liberation Sans', sans-serif">5</text><text transform="translate(142.3 477.5) rotate(90) scale(0.6 0.97)" text-anchor="middle" font-size="12" fill="#111" stroke="#111" stroke-width="0.3" font-family="'Liberation Sans', sans-serif">4</text><text transform="translate(161.8 477.5) rotate(90) scale(0.6 0.97)" text-anchor="middle" font-size="12" fill="#111" stroke="#111" stroke-width="0.3" font-family="'Liberation Sans', sans-serif">3</text><text transform="translate(182.8 477.5) rotate(90) scale(0.6 0.97)" text-anchor="middle" font-size="12" fill="#111" stroke="#111" stroke-width="0.3" font-family="'Liberation Sans', sans-serif">2</text><text transform="translate(204.4 477.5) rotate(90) scale(0.6 0.97)" text-anchor="middle" font-size="12" fill="#111" stroke="#111" stroke-width="0.3" font-family="'Liberation Sans', sans-serif">1</text>
<circle cx="335.8" cy="161.0" r="2.1" fill="#1c74bc"/><text transform="translate(333.8 170.8) rotate(90) scale(1.04 0.87)" text-anchor="start" font-size="6.9" fill="#111" font-family="'Liberation Sans', sans-serif">21</text><circle cx="345.0" cy="161.0" r="2.1" fill="#17becf"/><text transform="translate(343.0 170.8) rotate(90) scale(1.04 0.87)" text-anchor="start" font-size="6.9" fill="#111" font-family="'Liberation Sans', sans-serif">20</text><circle cx="354.2" cy="161.0" r="2.1" fill="#bcbd22"/><text transform="translate(352.2 170.8) rotate(90) scale(1.04 0.87)" text-anchor="start" font-size="6.9" fill="#111" font-family="'Liberation Sans', sans-serif">19</text><circle cx="363.4" cy="161.0" r="2.1" fill="#7f7f7f"/><text transform="translate(361.4 170.8) rotate(90) scale(1.04 0.87)" text-anchor="start" font-size="6.9" fill="#111" font-family="'Liberation Sans', sans-serif">18</text><circle cx="372.6" cy="161.0" r="2.1" fill="#e670c8"/><text transform="translate(370.6 170.8) rotate(90) scale(1.04 0.87)" text-anchor="start" font-size="6.9" fill="#111" font-family="'Liberation Sans', sans-serif">17</text><circle cx="381.8" cy="161.0" r="2.1" fill="#8c564b"/><text transform="translate(379.8 170.8) rotate(90) scale(1.04 0.87)" text-anchor="start" font-size="6.9" fill="#111" font-family="'Liberation Sans', sans-serif">16</text><circle cx="391.0" cy="161.0" r="2.1" fill="#9164c4"/><text transform="translate(389.0 170.8) rotate(90) scale(1.04 0.87)" text-anchor="start" font-size="6.9" fill="#111" font-family="'Liberation Sans', sans-serif">15</text><circle cx="400.2" cy="161.0" r="2.1" fill="#da2224"/><text transform="translate(398.2 170.8) rotate(90) scale(1.04 0.87)" text-anchor="start" font-size="6.9" fill="#111" font-family="'Liberation Sans', sans-serif">14</text><circle cx="409.4" cy="161.0" r="2.1" fill="#2ca02c"/><text transform="translate(407.4 170.8) rotate(90) scale(1.04 0.87)" text-anchor="start" font-size="6.9" fill="#111" font-family="'Liberation Sans', sans-serif">13</text><circle cx="418.6" cy="161.0" r="2.1" fill="#ff7f0e"/><text transform="translate(416.6 170.8) rotate(90) scale(1.04 0.87)" text-anchor="start" font-size="6.9" fill="#111" font-family="'Liberation Sans', sans-serif">12</text><circle cx="427.9" cy="161.0" r="2.1" fill="#1c74bc"/><text transform="translate(425.9 170.8) rotate(90) scale(1.04 0.87)" text-anchor="start" font-size="6.9" fill="#111" font-family="'Liberation Sans', sans-serif">11</text><circle cx="437.1" cy="161.0" r="2.1" fill="#17becf"/><text transform="translate(435.1 170.8) rotate(90) scale(1.04 0.87)" text-anchor="start" font-size="6.9" fill="#111" font-family="'Liberation Sans', sans-serif">10</text><circle cx="446.3" cy="161.0" r="2.1" fill="#bcbd22"/><text transform="translate(444.3 170.8) rotate(90) scale(1.04 0.87)" text-anchor="start" font-size="6.9" fill="#111" font-family="'Liberation Sans', sans-serif">9</text><circle cx="455.5" cy="161.0" r="2.1" fill="#7f7f7f"/><text transform="translate(453.5 170.8) rotate(90) scale(1.04 0.87)" text-anchor="start" font-size="6.9" fill="#111" font-family="'Liberation Sans', sans-serif">8</text><circle cx="464.7" cy="161.0" r="2.1" fill="#e670c8"/><text transform="translate(462.7 170.8) rotate(90) scale(1.04 0.87)" text-anchor="start" font-size="6.9" fill="#111" font-family="'Liberation Sans', sans-serif">7</text><circle cx="473.9" cy="161.0" r="2.1" fill="#8c564b"/><text transform="translate(471.9 170.8) rotate(90) scale(1.04 0.87)" text-anchor="start" font-size="6.9" fill="#111" font-family="'Liberation Sans', sans-serif">6</text><circle cx="483.1" cy="161.0" r="2.1" fill="#9164c4"/><text transform="translate(481.1 170.8) rotate(90) scale(1.04 0.87)" text-anchor="start" font-size="6.9" fill="#111" font-family="'Liberation Sans', sans-serif">5</text><circle cx="492.3" cy="161.0" r="2.1" fill="#da2224"/><text transform="translate(490.3 170.8) rotate(90) scale(1.04 0.87)" text-anchor="start" font-size="6.9" fill="#111" font-family="'Liberation Sans', sans-serif">4</text><circle cx="501.5" cy="161.0" r="2.1" fill="#2ca02c"/><text transform="translate(499.5 170.8) rotate(90) scale(1.04 0.87)" text-anchor="start" font-size="6.9" fill="#111" font-family="'Liberation Sans', sans-serif">3</text><circle cx="510.7" cy="161.0" r="2.1" fill="#ff7f0e"/><text transform="translate(508.7 170.8) rotate(90) scale(1.04 0.87)" text-anchor="start" font-size="6.9" fill="#111" font-family="'Liberation Sans', sans-serif">2</text><circle cx="519.9" cy="161.0" r="2.1" fill="#1c74bc"/><text transform="translate(517.9 170.8) rotate(90) scale(1.04 0.87)" text-anchor="start" font-size="6.9" fill="#111" font-family="'Liberation Sans', sans-serif">1</text>
<circle cx="335.8" cy="311.0" r="2.1" fill="#1c74bc"/><text transform="translate(333.8 320.9) rotate(90) scale(1.04 0.87)" text-anchor="start" font-size="6.9" fill="#111" font-family="'Liberation Sans', sans-serif">21</text><circle cx="345.0" cy="311.0" r="2.1" fill="#17becf"/><text transform="translate(343.0 320.9) rotate(90) scale(1.04 0.87)" text-anchor="start" font-size="6.9" fill="#111" font-family="'Liberation Sans', sans-serif">20</text><circle cx="354.2" cy="311.0" r="2.1" fill="#bcbd22"/><text transform="translate(352.2 320.9) rotate(90) scale(1.04 0.87)" text-anchor="start" font-size="6.9" fill="#111" font-family="'Liberation Sans', sans-serif">19</text><circle cx="363.4" cy="311.0" r="2.1" fill="#7f7f7f"/><text transform="translate(361.4 320.9) rotate(90) scale(1.04 0.87)" text-anchor="start" font-size="6.9" fill="#111" font-family="'Liberation Sans', sans-serif">18</text><circle cx="372.6" cy="311.0" r="2.1" fill="#e670c8"/><text transform="translate(370.6 320.9) rotate(90) scale(1.04 0.87)" text-anchor="start" font-size="6.9" fill="#111" font-family="'Liberation Sans', sans-serif">17</text><circle cx="381.8" cy="311.0" r="2.1" fill="#8c564b"/><text transform="translate(379.8 320.9) rotate(90) scale(1.04 0.87)" text-anchor="start" font-size="6.9" fill="#111" font-family="'Liberation Sans', sans-serif">16</text><circle cx="391.0" cy="311.0" r="2.1" fill="#9164c4"/><text transform="translate(389.0 320.9) rotate(90) scale(1.04 0.87)" text-anchor="start" font-size="6.9" fill="#111" font-family="'Liberation Sans', sans-serif">15</text><circle cx="400.2" cy="311.0" r="2.1" fill="#da2224"/><text transform="translate(398.2 320.9) rotate(90) scale(1.04 0.87)" text-anchor="start" font-size="6.9" fill="#111" font-family="'Liberation Sans', sans-serif">14</text><circle cx="409.4" cy="311.0" r="2.1" fill="#2ca02c"/><text transform="translate(407.4 320.9) rotate(90) scale(1.04 0.87)" text-anchor="start" font-size="6.9" fill="#111" font-family="'Liberation Sans', sans-serif">13</text><circle cx="418.6" cy="311.0" r="2.1" fill="#ff7f0e"/><text transform="translate(416.6 320.9) rotate(90) scale(1.04 0.87)" text-anchor="start" font-size="6.9" fill="#111" font-family="'Liberation Sans', sans-serif">12</text><circle cx="427.9" cy="311.0" r="2.1" fill="#1c74bc"/><text transform="translate(425.9 320.9) rotate(90) scale(1.04 0.87)" text-anchor="start" font-size="6.9" fill="#111" font-family="'Liberation Sans', sans-serif">11</text><circle cx="437.1" cy="311.0" r="2.1" fill="#17becf"/><text transform="translate(435.1 320.9) rotate(90) scale(1.04 0.87)" text-anchor="start" font-size="6.9" fill="#111" font-family="'Liberation Sans', sans-serif">10</text><circle cx="446.3" cy="311.0" r="2.1" fill="#bcbd22"/><text transform="translate(444.3 320.9) rotate(90) scale(1.04 0.87)" text-anchor="start" font-size="6.9" fill="#111" font-family="'Liberation Sans', sans-serif">9</text><circle cx="455.5" cy="311.0" r="2.1" fill="#7f7f7f"/><text transform="translate(453.5 320.9) rotate(90) scale(1.04 0.87)" text-anchor="start" font-size="6.9" fill="#111" font-family="'Liberation Sans', sans-serif">8</text><circle cx="464.7" cy="311.0" r="2.1" fill="#e670c8"/><text transform="translate(462.7 320.9) rotate(90) scale(1.04 0.87)" text-anchor="start" font-size="6.9" fill="#111" font-family="'Liberation Sans', sans-serif">7</text><circle cx="473.9" cy="311.0" r="2.1" fill="#8c564b"/><text transform="translate(471.9 320.9) rotate(90) scale(1.04 0.87)" text-anchor="start" font-size="6.9" fill="#111" font-family="'Liberation Sans', sans-serif">6</text><circle cx="483.1" cy="311.0" r="2.1" fill="#9164c4"/><text transform="translate(481.1 320.9) rotate(90) scale(1.04 0.87)" text-anchor="start" font-size="6.9" fill="#111" font-family="'Liberation Sans', sans-serif">5</text><circle cx="492.3" cy="311.0" r="2.1" fill="#da2224"/><text transform="translate(490.3 320.9) rotate(90) scale(1.04 0.87)" text-anchor="start" font-size="6.9" fill="#111" font-family="'Liberation Sans', sans-serif">4</text><circle cx="501.5" cy="311.0" r="2.1" fill="#2ca02c"/><text transform="translate(499.5 320.9) rotate(90) scale(1.04 0.87)" text-anchor="start" font-size="6.9" fill="#111" font-family="'Liberation Sans', sans-serif">3</text><circle cx="510.7" cy="311.0" r="2.1" fill="#ff7f0e"/><text transform="translate(508.7 320.9) rotate(90) scale(1.04 0.87)" text-anchor="start" font-size="6.9" fill="#111" font-family="'Liberation Sans', sans-serif">2</text><circle cx="519.9" cy="311.0" r="2.1" fill="#1c74bc"/><text transform="translate(517.9 320.9) rotate(90) scale(1.04 0.87)" text-anchor="start" font-size="6.9" fill="#111" font-family="'Liberation Sans', sans-serif">1</text>
<circle cx="335.8" cy="463.7" r="2.1" fill="#1c74bc"/><text transform="translate(333.8 473.5) rotate(90) scale(1.04 0.87)" text-anchor="start" font-size="6.9" fill="#111" font-family="'Liberation Sans', sans-serif">21</text><circle cx="345.0" cy="463.7" r="2.1" fill="#17becf"/><text transform="translate(343.0 473.5) rotate(90) scale(1.04 0.87)" text-anchor="start" font-size="6.9" fill="#111" font-family="'Liberation Sans', sans-serif">20</text><circle cx="354.2" cy="463.7" r="2.1" fill="#bcbd22"/><text transform="translate(352.2 473.5) rotate(90) scale(1.04 0.87)" text-anchor="start" font-size="6.9" fill="#111" font-family="'Liberation Sans', sans-serif">19</text><circle cx="363.4" cy="463.7" r="2.1" fill="#7f7f7f"/><text transform="translate(361.4 473.5) rotate(90) scale(1.04 0.87)" text-anchor="start" font-size="6.9" fill="#111" font-family="'Liberation Sans', sans-serif">18</text><circle cx="372.6" cy="463.7" r="2.1" fill="#e670c8"/><text transform="translate(370.6 473.5) rotate(90) scale(1.04 0.87)" text-anchor="start" font-size="6.9" fill="#111" font-family="'Liberation Sans', sans-serif">17</text><circle cx="381.8" cy="463.7" r="2.1" fill="#8c564b"/><text transform="translate(379.8 473.5) rotate(90) scale(1.04 0.87)" text-anchor="start" font-size="6.9" fill="#111" font-family="'Liberation Sans', sans-serif">16</text><circle cx="391.0" cy="463.7" r="2.1" fill="#9164c4"/><text transform="translate(389.0 473.5) rotate(90) scale(1.04 0.87)" text-anchor="start" font-size="6.9" fill="#111" font-family="'Liberation Sans', sans-serif">15</text><circle cx="400.2" cy="463.7" r="2.1" fill="#da2224"/><text transform="translate(398.2 473.5) rotate(90) scale(1.04 0.87)" text-anchor="start" font-size="6.9" fill="#111" font-family="'Liberation Sans', sans-serif">14</text><circle cx="409.4" cy="463.7" r="2.1" fill="#2ca02c"/><text transform="translate(407.4 473.5) rotate(90) scale(1.04 0.87)" text-anchor="start" font-size="6.9" fill="#111" font-family="'Liberation Sans', sans-serif">13</text><circle cx="418.6" cy="463.7" r="2.1" fill="#ff7f0e"/><text transform="translate(416.6 473.5) rotate(90) scale(1.04 0.87)" text-anchor="start" font-size="6.9" fill="#111" font-family="'Liberation Sans', sans-serif">12</text><circle cx="427.9" cy="463.7" r="2.1" fill="#1c74bc"/><text transform="translate(425.9 473.5) rotate(90) scale(1.04 0.87)" text-anchor="start" font-size="6.9" fill="#111" font-family="'Liberation Sans', sans-serif">11</text><circle cx="437.1" cy="463.7" r="2.1" fill="#17becf"/><text transform="translate(435.1 473.5) rotate(90) scale(1.04 0.87)" text-anchor="start" font-size="6.9" fill="#111" font-family="'Liberation Sans', sans-serif">10</text><circle cx="446.3" cy="463.7" r="2.1" fill="#bcbd22"/><text transform="translate(444.3 473.5) rotate(90) scale(1.04 0.87)" text-anchor="start" font-size="6.9" fill="#111" font-family="'Liberation Sans', sans-serif">9</text><circle cx="455.5" cy="463.7" r="2.1" fill="#7f7f7f"/><text transform="translate(453.5 473.5) rotate(90) scale(1.04 0.87)" text-anchor="start" font-size="6.9" fill="#111" font-family="'Liberation Sans', sans-serif">8</text><circle cx="464.7" cy="463.7" r="2.1" fill="#e670c8"/><text transform="translate(462.7 473.5) rotate(90) scale(1.04 0.87)" text-anchor="start" font-size="6.9" fill="#111" font-family="'Liberation Sans', sans-serif">7</text><circle cx="473.9" cy="463.7" r="2.1" fill="#8c564b"/><text transform="translate(471.9 473.5) rotate(90) scale(1.04 0.87)" text-anchor="start" font-size="6.9" fill="#111" font-family="'Liberation Sans', sans-serif">6</text><circle cx="483.1" cy="463.7" r="2.1" fill="#9164c4"/><text transform="translate(481.1 473.5) rotate(90) scale(1.04 0.87)" text-anchor="start" font-size="6.9" fill="#111" font-family="'Liberation Sans', sans-serif">5</text><circle cx="492.3" cy="463.7" r="2.1" fill="#da2224"/><text transform="translate(490.3 473.5) rotate(90) scale(1.04 0.87)" text-anchor="start" font-size="6.9" fill="#111" font-family="'Liberation Sans', sans-serif">4</text><circle cx="501.5" cy="463.7" r="2.1" fill="#2ca02c"/><text transform="translate(499.5 473.5) rotate(90) scale(1.04 0.87)" text-anchor="start" font-size="6.9" fill="#111" font-family="'Liberation Sans', sans-serif">3</text><circle cx="510.7" cy="463.7" r="2.1" fill="#ff7f0e"/><text transform="translate(508.7 473.5) rotate(90) scale(1.04 0.87)" text-anchor="start" font-size="6.9" fill="#111" font-family="'Liberation Sans', sans-serif">2</text><circle cx="519.9" cy="463.7" r="2.1" fill="#1c74bc"/><text transform="translate(517.9 473.5) rotate(90) scale(1.04 0.87)" text-anchor="start" font-size="6.9" fill="#111" font-family="'Liberation Sans', sans-serif">1</text>
<text x="149.3" y="13.4" text-anchor="middle" textLength="119.5" lengthAdjust="spacingAndGlyphs" font-family="'Liberation Serif', serif" font-weight="bold" font-size="13" fill="#111" stroke="#111" stroke-width="0.2">RSSCN7(5/5) Dataset</text>
<text x="425.4" y="13.4" text-anchor="middle" textLength="114.3" lengthAdjust="spacingAndGlyphs" font-family="'Liberation Serif', serif" font-weight="bold" font-size="13" fill="#111" stroke="#111" stroke-width="0.2">UCM21(8/2) Dataset</text>
<text transform="translate(11.7 86.4) rotate(90)" text-anchor="middle" textLength="56.5" lengthAdjust="spacingAndGlyphs" font-family="'Liberation Serif', serif" font-size="14" fill="#3a66c8">MobileNet</text>
<text transform="translate(6.3 240.7) rotate(90)" text-anchor="middle" textLength="51.4" lengthAdjust="spacingAndGlyphs" font-family="'Liberation Sans', sans-serif" font-size="12" fill="#3a5a22">LCNN-BFF</text>
<text transform="translate(4.6 384.5) rotate(90)" text-anchor="middle" textLength="61" lengthAdjust="spacingAndGlyphs" font-family="'Liberation Serif', serif" font-size="13.4" fill="#c55a11">AMB-CNN</text>
</svg>
</body></html>
